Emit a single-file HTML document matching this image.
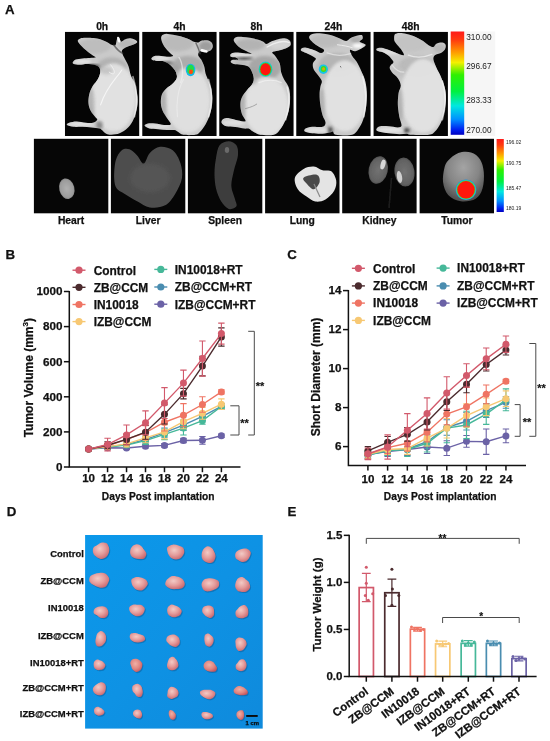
<!DOCTYPE html>
<html lang="en"><head><meta charset="utf-8"><title>Figure</title>
<style>
html,body{margin:0;padding:0;background:#fff;}
body{width:550px;height:741px;overflow:hidden;position:relative;font-family:'Liberation Sans', Arial, sans-serif;}
svg{position:absolute;left:0;top:0;display:block;}
svg text{font-family:'Liberation Sans', Arial, sans-serif;}
</style></head><body>
<svg width="550" height="741" viewBox="0 0 550 741">
<defs>
<filter id="b06" x="-20%" y="-20%" width="140%" height="140%"><feGaussianBlur stdDeviation="0.6"/></filter>
<filter id="b1" x="-20%" y="-20%" width="140%" height="140%"><feGaussianBlur stdDeviation="1"/></filter>
<filter id="b15" x="-30%" y="-30%" width="160%" height="160%"><feGaussianBlur stdDeviation="1.4"/></filter>
<filter id="b2" x="-30%" y="-30%" width="160%" height="160%"><feGaussianBlur stdDeviation="2"/></filter>
<filter id="b3" x="-30%" y="-30%" width="160%" height="160%"><feGaussianBlur stdDeviation="3.5"/></filter>
<linearGradient id="cbar" x1="0" y1="0" x2="0" y2="1"><stop offset="0" stop-color="#ff1a1a"/><stop offset="0.08" stop-color="#ff3a10"/><stop offset="0.2" stop-color="#ff9a00"/><stop offset="0.3" stop-color="#f4f000"/><stop offset="0.42" stop-color="#30f000"/><stop offset="0.58" stop-color="#00f040"/><stop offset="0.72" stop-color="#00e8e0"/><stop offset="0.85" stop-color="#0090ff"/><stop offset="0.95" stop-color="#0020f0"/><stop offset="1" stop-color="#0000c0"/></linearGradient>
<radialGradient id="bodyg" cx="0.55" cy="0.5" r="0.6"><stop offset="0" stop-color="#f2f2f2"/><stop offset="0.6" stop-color="#dedede"/><stop offset="1" stop-color="#a8a8a8"/></radialGradient>
</defs>
<text x="5.00" y="13.56" font-size="13.3" font-weight="bold" text-anchor="start" fill="#111"  stroke="#111" stroke-width="0.25">A</text>
<text x="102.15" y="29.89" font-size="10.3" font-weight="bold" text-anchor="middle" fill="#111"  stroke="#111" stroke-width="0.25">0h</text>
<text x="179.45" y="29.89" font-size="10.3" font-weight="bold" text-anchor="middle" fill="#111"  stroke="#111" stroke-width="0.25">4h</text>
<text x="256.45" y="29.89" font-size="10.3" font-weight="bold" text-anchor="middle" fill="#111"  stroke="#111" stroke-width="0.25">8h</text>
<text x="333.45" y="29.89" font-size="10.3" font-weight="bold" text-anchor="middle" fill="#111"  stroke="#111" stroke-width="0.25">24h</text>
<text x="410.65" y="29.89" font-size="10.3" font-weight="bold" text-anchor="middle" fill="#111"  stroke="#111" stroke-width="0.25">48h</text>
<svg x="64.85" y="31.7" width="74.6" height="104.4" viewBox="0 0 74.6 104.4" overflow="hidden">
<rect x="0" y="0" width="74.6" height="104.4" fill="#050505"/>
<clipPath id="mc0"><path d="M12.91,9.05C12.91,7.99 14.14,7.17 15.43,6.68C16.72,6.18 18.40,6.13 20.62,6.08C22.85,6.03 26.31,6.13 28.78,6.38C31.26,6.63 33.36,6.95 35.46,7.57C37.56,8.18 39.54,9.17 41.39,10.09C43.25,11.00 45.05,12.49 46.59,13.06C48.12,13.63 49.68,14.42 50.59,13.50C51.51,12.59 51.48,8.85 52.08,7.57C52.67,6.28 53.56,5.54 54.15,5.79C54.75,6.03 55.24,8.33 55.64,9.05C56.03,9.77 55.69,10.34 56.53,10.09C57.37,9.84 59.00,8.14 60.68,7.57C62.36,7.00 64.89,6.50 66.62,6.68C68.35,6.85 70.13,7.91 71.07,8.61C72.01,9.30 72.75,10.09 72.26,10.83C71.76,11.57 69.54,12.44 68.10,13.06C66.67,13.67 65.13,13.92 63.65,14.54C62.17,15.16 60.31,15.90 59.20,16.77C58.09,17.63 56.97,18.25 56.97,19.73C56.97,21.22 58.09,23.19 59.20,25.67C60.31,28.14 62.54,31.60 63.65,34.57C64.76,37.54 64.89,40.75 65.88,43.47C66.86,46.19 68.60,48.17 69.58,50.89C70.57,53.61 71.27,56.58 71.81,59.79C72.35,63.01 72.97,66.72 72.85,70.18C72.73,73.64 71.91,77.35 71.07,80.56C70.23,83.78 69.29,86.75 67.80,89.47C66.32,92.19 64.34,94.86 62.17,96.88C59.99,98.91 57.34,100.59 54.75,101.63C52.15,102.67 48.81,103.04 46.59,103.12C44.36,103.19 43.00,102.87 41.39,102.08C39.79,101.29 38.06,99.23 36.94,98.37C35.83,97.50 36.45,97.33 34.72,96.88C32.99,96.44 29.40,95.99 26.56,95.70C23.71,95.40 20.62,95.20 17.66,95.10C14.69,95.00 11.35,95.43 8.75,95.10C6.16,94.78 2.82,93.87 2.08,93.18C1.34,92.48 2.70,91.52 4.30,90.95C5.91,90.38 9.00,89.76 11.72,89.76C14.44,89.76 17.90,90.75 20.62,90.95C23.34,91.15 26.06,91.44 28.04,90.95C30.02,90.45 32.12,88.97 32.49,87.98C32.86,86.99 31.38,86.50 30.27,85.01C29.15,83.53 26.93,81.31 25.82,79.08C24.70,76.85 23.84,74.38 23.59,71.66C23.34,68.94 23.71,65.48 24.33,62.76C24.95,60.04 26.06,57.57 27.30,55.34C28.54,53.12 30.51,51.38 31.75,49.41C32.99,47.43 34.10,45.20 34.72,43.47C35.34,41.74 35.58,40.38 35.46,39.02C35.34,37.66 34.97,36.30 33.98,35.31C32.99,34.32 31.50,33.58 29.53,33.09C27.55,32.59 24.58,32.34 22.11,32.34C19.63,32.34 16.91,33.09 14.69,33.09C12.46,33.09 9.87,32.79 8.75,32.34C7.64,31.90 7.64,31.16 8.01,30.42C8.38,29.67 9.37,28.49 10.98,27.89C12.59,27.30 15.31,27.10 17.66,26.85C20.00,26.61 22.85,26.61 25.07,26.41C27.30,26.21 30.39,26.04 31.01,25.67C31.63,25.30 30.02,25.05 28.78,24.18C27.55,23.32 25.20,21.71 23.59,20.47C21.98,19.24 20.50,18.00 19.14,16.77C17.78,15.53 16.47,14.34 15.43,13.06C14.39,11.77 12.91,10.11 12.91,9.05Z"/></clipPath>
<g filter="url(#b06)">
<path d="M12.91,9.05C12.91,7.99 14.14,7.17 15.43,6.68C16.72,6.18 18.40,6.13 20.62,6.08C22.85,6.03 26.31,6.13 28.78,6.38C31.26,6.63 33.36,6.95 35.46,7.57C37.56,8.18 39.54,9.17 41.39,10.09C43.25,11.00 45.05,12.49 46.59,13.06C48.12,13.63 49.68,14.42 50.59,13.50C51.51,12.59 51.48,8.85 52.08,7.57C52.67,6.28 53.56,5.54 54.15,5.79C54.75,6.03 55.24,8.33 55.64,9.05C56.03,9.77 55.69,10.34 56.53,10.09C57.37,9.84 59.00,8.14 60.68,7.57C62.36,7.00 64.89,6.50 66.62,6.68C68.35,6.85 70.13,7.91 71.07,8.61C72.01,9.30 72.75,10.09 72.26,10.83C71.76,11.57 69.54,12.44 68.10,13.06C66.67,13.67 65.13,13.92 63.65,14.54C62.17,15.16 60.31,15.90 59.20,16.77C58.09,17.63 56.97,18.25 56.97,19.73C56.97,21.22 58.09,23.19 59.20,25.67C60.31,28.14 62.54,31.60 63.65,34.57C64.76,37.54 64.89,40.75 65.88,43.47C66.86,46.19 68.60,48.17 69.58,50.89C70.57,53.61 71.27,56.58 71.81,59.79C72.35,63.01 72.97,66.72 72.85,70.18C72.73,73.64 71.91,77.35 71.07,80.56C70.23,83.78 69.29,86.75 67.80,89.47C66.32,92.19 64.34,94.86 62.17,96.88C59.99,98.91 57.34,100.59 54.75,101.63C52.15,102.67 48.81,103.04 46.59,103.12C44.36,103.19 43.00,102.87 41.39,102.08C39.79,101.29 38.06,99.23 36.94,98.37C35.83,97.50 36.45,97.33 34.72,96.88C32.99,96.44 29.40,95.99 26.56,95.70C23.71,95.40 20.62,95.20 17.66,95.10C14.69,95.00 11.35,95.43 8.75,95.10C6.16,94.78 2.82,93.87 2.08,93.18C1.34,92.48 2.70,91.52 4.30,90.95C5.91,90.38 9.00,89.76 11.72,89.76C14.44,89.76 17.90,90.75 20.62,90.95C23.34,91.15 26.06,91.44 28.04,90.95C30.02,90.45 32.12,88.97 32.49,87.98C32.86,86.99 31.38,86.50 30.27,85.01C29.15,83.53 26.93,81.31 25.82,79.08C24.70,76.85 23.84,74.38 23.59,71.66C23.34,68.94 23.71,65.48 24.33,62.76C24.95,60.04 26.06,57.57 27.30,55.34C28.54,53.12 30.51,51.38 31.75,49.41C32.99,47.43 34.10,45.20 34.72,43.47C35.34,41.74 35.58,40.38 35.46,39.02C35.34,37.66 34.97,36.30 33.98,35.31C32.99,34.32 31.50,33.58 29.53,33.09C27.55,32.59 24.58,32.34 22.11,32.34C19.63,32.34 16.91,33.09 14.69,33.09C12.46,33.09 9.87,32.79 8.75,32.34C7.64,31.90 7.64,31.16 8.01,30.42C8.38,29.67 9.37,28.49 10.98,27.89C12.59,27.30 15.31,27.10 17.66,26.85C20.00,26.61 22.85,26.61 25.07,26.41C27.30,26.21 30.39,26.04 31.01,25.67C31.63,25.30 30.02,25.05 28.78,24.18C27.55,23.32 25.20,21.71 23.59,20.47C21.98,19.24 20.50,18.00 19.14,16.77C17.78,15.53 16.47,14.34 15.43,13.06C14.39,11.77 12.91,10.11 12.91,9.05Z" fill="#cacaca"/>
<g clip-path="url(#mc0)">
<ellipse cx="47.33" cy="34.57" rx="14.84" ry="8.90" fill="#a0a0a0" opacity="0.55" filter="url(#b15)"/>
<ellipse cx="48.81" cy="65.73" rx="22.26" ry="34.12" fill="#e2e2e2" opacity="0.95" filter="url(#b15)"/>
<ellipse cx="29.53" cy="14.54" rx="16.32" ry="7.42" fill="#b4b4b4" opacity="0.6" filter="url(#b15)"/>
<ellipse cx="62.17" cy="12.31" rx="8.90" ry="4.45" fill="#a8a8a8" opacity="0.5" filter="url(#b15)"/>
<ellipse cx="27.30" cy="34.87" rx="7.42" ry="2.08" fill="#000" opacity="0.8" filter="url(#b15)"/>
<ellipse cx="41.39" cy="39.02" rx="6.68" ry="3.71" fill="#a8a8a8" opacity="0.45" filter="url(#b15)"/>
<ellipse cx="26.56" cy="73.15" rx="3.26" ry="16.32" fill="#8a8a8a" opacity="0.4" filter="url(#b15)"/>
<ellipse cx="34.72" cy="93.18" rx="3.26" ry="3.86" fill="#444" opacity="0.5" filter="url(#b15)"/>
<ellipse cx="17.66" cy="29.82" rx="8.90" ry="2.08" fill="#f0f0f0" opacity="0.8" filter="url(#b15)"/>
<ellipse cx="16.17" cy="92.43" rx="13.35" ry="2.08" fill="#ececec" opacity="0.8" filter="url(#b15)"/>
</g>
<path d="M56.97,38.28C51.78,46.44 41.39,55.34 35.76,73.15" fill="none" stroke="#fafafa" stroke-width="1.1" opacity="0.8" stroke-linecap="round"/>
<path d="M49.11,13.50C52.52,18.25 55.49,20.47 57.72,21.51" fill="none" stroke="#4a4a4a" stroke-width="1.6" opacity="0.7" stroke-linecap="round"/>
<path d="M53.26,6.08 L54.45,9.64" fill="none" stroke="#ffffff" stroke-width="2.2" opacity="0.95" stroke-linecap="round"/>
<path d="M45.85,33.09C51.78,40.50 50.30,44.96 44.36,40.50" fill="none" stroke="#f6f6f6" stroke-width="1.0" opacity="0.7" stroke-linecap="round"/>
<path d="M68.10,44.96C72.55,58.31 72.85,73.15 69.58,85.01" fill="none" stroke="#fbfbfb" stroke-width="1.6" opacity="0.6" stroke-linecap="round"/>
</g>
</svg>
<svg x="142.15" y="31.7" width="74.6" height="104.4" viewBox="0 0 74.6 104.4" overflow="hidden">
<rect x="0" y="0" width="74.6" height="104.4" fill="#050505"/>
<clipPath id="mc1"><path d="M18.99,7.12C18.82,5.51 19.31,4.28 20.18,3.41C21.04,2.55 22.40,1.98 24.18,1.93C25.96,1.88 28.51,2.67 30.86,3.12C33.21,3.56 35.81,3.93 38.28,4.60C40.75,5.27 43.47,6.21 45.70,7.12C47.92,8.04 49.90,9.47 51.63,10.09C53.36,10.71 54.85,11.00 56.08,10.83C57.32,10.66 57.57,9.42 59.05,9.05C60.53,8.68 63.25,8.31 64.99,8.61C66.72,8.90 68.50,9.72 69.44,10.83C70.38,11.94 70.87,13.92 70.62,15.28C70.38,16.64 69.39,18.13 67.95,18.99C66.52,19.86 63.75,20.35 62.02,20.47C60.29,20.60 58.56,19.24 57.57,19.73C56.58,20.23 55.84,22.08 56.08,23.44C56.33,24.80 58.06,26.04 59.05,27.89C60.04,29.75 61.28,32.22 62.02,34.57C62.76,36.92 62.76,39.52 63.50,41.99C64.24,44.46 65.48,46.69 66.47,49.41C67.46,52.13 68.82,54.85 69.44,58.31C70.05,61.77 70.43,66.22 70.18,70.18C69.93,74.13 69.07,78.34 67.95,82.05C66.84,85.76 65.23,89.34 63.50,92.43C61.77,95.52 59.30,98.81 57.57,100.59C55.84,102.37 55.84,102.70 53.12,103.12C50.40,103.54 44.21,103.66 41.25,103.12C38.28,102.57 36.80,100.64 35.31,99.85C33.83,99.06 34.08,98.62 32.34,98.37C30.61,98.12 27.65,98.49 24.93,98.37C22.21,98.24 18.99,97.87 16.02,97.63C13.06,97.38 9.40,97.50 7.12,96.88C4.85,96.27 2.62,94.78 2.37,93.92C2.13,93.05 3.86,92.06 5.64,91.69C7.42,91.32 10.34,91.44 13.06,91.69C15.78,91.94 19.36,93.05 21.96,93.18C24.55,93.30 28.14,93.55 28.64,92.43C29.13,91.32 26.29,88.72 24.93,86.50C23.57,84.27 21.51,81.55 20.47,79.08C19.44,76.61 18.82,74.38 18.69,71.66C18.57,68.94 18.82,65.23 19.73,62.76C20.65,60.29 22.45,58.56 24.18,56.82C25.91,55.09 28.39,54.10 30.12,52.37C31.85,50.64 33.95,48.42 34.57,46.44C35.19,44.46 34.57,42.36 33.83,40.50C33.09,38.65 31.48,36.80 30.12,35.31C28.76,33.83 27.27,32.59 25.67,31.60C24.06,30.61 22.33,29.75 20.47,29.38C18.62,29.01 16.27,29.55 14.54,29.38C12.81,29.20 10.95,28.83 10.09,28.34C9.22,27.84 8.98,27.10 9.35,26.41C9.72,25.72 10.71,24.55 12.31,24.18C13.92,23.81 16.64,24.06 18.99,24.18C21.34,24.31 24.43,24.93 26.41,24.93C28.39,24.93 30.49,24.68 30.86,24.18C31.23,23.69 29.62,22.95 28.64,21.96C27.65,20.97 26.16,19.73 24.93,18.25C23.69,16.77 22.21,14.91 21.22,13.06C20.23,11.20 19.16,8.73 18.99,7.12Z"/></clipPath>
<g filter="url(#b06)">
<path d="M18.99,7.12C18.82,5.51 19.31,4.28 20.18,3.41C21.04,2.55 22.40,1.98 24.18,1.93C25.96,1.88 28.51,2.67 30.86,3.12C33.21,3.56 35.81,3.93 38.28,4.60C40.75,5.27 43.47,6.21 45.70,7.12C47.92,8.04 49.90,9.47 51.63,10.09C53.36,10.71 54.85,11.00 56.08,10.83C57.32,10.66 57.57,9.42 59.05,9.05C60.53,8.68 63.25,8.31 64.99,8.61C66.72,8.90 68.50,9.72 69.44,10.83C70.38,11.94 70.87,13.92 70.62,15.28C70.38,16.64 69.39,18.13 67.95,18.99C66.52,19.86 63.75,20.35 62.02,20.47C60.29,20.60 58.56,19.24 57.57,19.73C56.58,20.23 55.84,22.08 56.08,23.44C56.33,24.80 58.06,26.04 59.05,27.89C60.04,29.75 61.28,32.22 62.02,34.57C62.76,36.92 62.76,39.52 63.50,41.99C64.24,44.46 65.48,46.69 66.47,49.41C67.46,52.13 68.82,54.85 69.44,58.31C70.05,61.77 70.43,66.22 70.18,70.18C69.93,74.13 69.07,78.34 67.95,82.05C66.84,85.76 65.23,89.34 63.50,92.43C61.77,95.52 59.30,98.81 57.57,100.59C55.84,102.37 55.84,102.70 53.12,103.12C50.40,103.54 44.21,103.66 41.25,103.12C38.28,102.57 36.80,100.64 35.31,99.85C33.83,99.06 34.08,98.62 32.34,98.37C30.61,98.12 27.65,98.49 24.93,98.37C22.21,98.24 18.99,97.87 16.02,97.63C13.06,97.38 9.40,97.50 7.12,96.88C4.85,96.27 2.62,94.78 2.37,93.92C2.13,93.05 3.86,92.06 5.64,91.69C7.42,91.32 10.34,91.44 13.06,91.69C15.78,91.94 19.36,93.05 21.96,93.18C24.55,93.30 28.14,93.55 28.64,92.43C29.13,91.32 26.29,88.72 24.93,86.50C23.57,84.27 21.51,81.55 20.47,79.08C19.44,76.61 18.82,74.38 18.69,71.66C18.57,68.94 18.82,65.23 19.73,62.76C20.65,60.29 22.45,58.56 24.18,56.82C25.91,55.09 28.39,54.10 30.12,52.37C31.85,50.64 33.95,48.42 34.57,46.44C35.19,44.46 34.57,42.36 33.83,40.50C33.09,38.65 31.48,36.80 30.12,35.31C28.76,33.83 27.27,32.59 25.67,31.60C24.06,30.61 22.33,29.75 20.47,29.38C18.62,29.01 16.27,29.55 14.54,29.38C12.81,29.20 10.95,28.83 10.09,28.34C9.22,27.84 8.98,27.10 9.35,26.41C9.72,25.72 10.71,24.55 12.31,24.18C13.92,23.81 16.64,24.06 18.99,24.18C21.34,24.31 24.43,24.93 26.41,24.93C28.39,24.93 30.49,24.68 30.86,24.18C31.23,23.69 29.62,22.95 28.64,21.96C27.65,20.97 26.16,19.73 24.93,18.25C23.69,16.77 22.21,14.91 21.22,13.06C20.23,11.20 19.16,8.73 18.99,7.12Z" fill="#cacaca"/>
<g clip-path="url(#mc1)">
<ellipse cx="45.70" cy="34.57" rx="16.32" ry="10.39" fill="#989898" opacity="0.6" filter="url(#b15)"/>
<ellipse cx="45.70" cy="68.69" rx="22.26" ry="32.64" fill="#e0e0e0" opacity="0.95" filter="url(#b15)"/>
<ellipse cx="35.31" cy="11.57" rx="16.32" ry="8.16" fill="#b0b0b0" opacity="0.6" filter="url(#b15)"/>
<ellipse cx="63.50" cy="14.54" rx="6.68" ry="5.19" fill="#808080" opacity="0.6" filter="url(#b15)"/>
<ellipse cx="33.09" cy="39.02" rx="4.45" ry="6.68" fill="#9a9a9a" opacity="0.5" filter="url(#b15)"/>
<ellipse cx="21.22" cy="73.15" rx="3.26" ry="14.84" fill="#8a8a8a" opacity="0.4" filter="url(#b15)"/>
<ellipse cx="24.93" cy="31.31" rx="5.93" ry="1.48" fill="#000" opacity="0.6" filter="url(#b15)"/>
<ellipse cx="18.99" cy="26.41" rx="8.90" ry="2.08" fill="#ececec" opacity="0.8" filter="url(#b15)"/>
<ellipse cx="16.02" cy="94.66" rx="13.35" ry="2.08" fill="#e8e8e8" opacity="0.8" filter="url(#b15)"/>
</g>
<path d="M53.86,11.57C56.08,16.02 57.27,19.73 57.86,21.96" fill="none" stroke="#4a4a4a" stroke-width="1.5" opacity="0.7" stroke-linecap="round"/>
<path d="M59.79,18.55 L64.24,19.73" fill="none" stroke="#ffffff" stroke-width="2.6" opacity="0.95" stroke-linecap="round"/>
<path d="M41.25,47.92C35.31,58.31 33.83,73.15 35.31,85.01" fill="none" stroke="#f4f4f4" stroke-width="1.2" opacity="0.5" stroke-linecap="round"/>
<path d="M66.47,47.92C70.18,59.79 70.18,73.15 66.47,85.01" fill="none" stroke="#fbfbfb" stroke-width="1.6" opacity="0.6" stroke-linecap="round"/>
<path d="M36.80,25.67C41.25,31.60 41.25,44.96 38.28,50.89" fill="none" stroke="#f2f2f2" stroke-width="1.4" opacity="0.6" stroke-linecap="round"/>
</g>
<g filter="url(#b06)"><ellipse cx="48.4" cy="38.3" rx="4.8" ry="6.2" fill="#19b8e8"/><ellipse cx="48.4" cy="37.699999999999996" rx="3.4" ry="4.6" fill="#22dd44"/><ellipse cx="48.8" cy="40.099999999999994" rx="2.0" ry="2.4" fill="#ff4a10"/></g>
</svg>
<svg x="219.15" y="31.7" width="74.6" height="104.4" viewBox="0 0 74.6 104.4" overflow="hidden">
<rect x="0" y="0" width="74.6" height="104.4" fill="#050505"/>
<clipPath id="mc2"><path d="M14.54,8.61C14.42,7.37 15.28,6.21 16.77,5.64C18.25,5.07 21.09,5.12 23.44,5.19C25.79,5.27 28.39,5.64 30.86,6.08C33.33,6.53 36.05,7.20 38.28,7.86C40.50,8.53 42.73,9.35 44.21,10.09C45.70,10.83 45.94,12.31 47.18,12.31C48.42,12.31 49.65,10.88 51.63,10.09C53.61,9.30 56.58,8.14 59.05,7.57C61.52,7.00 64.49,6.38 66.47,6.68C68.45,6.97 70.13,8.16 70.92,9.35C71.71,10.53 71.96,12.56 71.22,13.80C70.47,15.03 68.50,15.90 66.47,16.77C64.44,17.63 61.28,18.37 59.05,18.99C56.82,19.61 53.61,19.61 53.12,20.47C52.62,21.34 54.85,22.33 56.08,24.18C57.32,26.04 59.55,28.88 60.53,31.60C61.52,34.32 61.28,37.78 62.02,40.50C62.76,43.22 63.75,45.45 64.99,47.92C66.22,50.40 68.45,52.62 69.44,55.34C70.43,58.06 70.80,60.78 70.92,64.24C71.04,67.71 70.92,72.16 70.18,76.11C69.44,80.07 68.08,84.27 66.47,87.98C64.86,91.69 62.51,95.85 60.53,98.37C58.56,100.89 57.81,102.32 54.60,103.12C51.38,103.91 44.71,103.66 41.25,103.12C37.78,102.57 35.81,100.89 33.83,99.85C31.85,98.81 30.86,97.38 29.38,96.88C27.89,96.39 27.15,97.13 24.93,96.88C22.70,96.64 18.99,95.77 16.02,95.40C13.06,95.03 9.40,95.40 7.12,94.66C4.85,93.92 2.87,92.19 2.37,90.95C1.88,89.71 2.87,87.98 4.15,87.24C5.44,86.50 7.62,86.25 10.09,86.50C12.56,86.75 16.27,88.23 18.99,88.72C21.71,89.22 25.79,90.58 26.41,89.47C27.03,88.35 23.57,84.77 22.70,82.05C21.83,79.33 21.22,75.87 21.22,73.15C21.22,70.43 21.59,68.20 22.70,65.73C23.81,63.25 26.16,60.53 27.89,58.31C29.62,56.08 31.97,54.35 33.09,52.37C34.20,50.40 34.69,48.66 34.57,46.44C34.45,44.21 33.33,41.00 32.34,39.02C31.36,37.04 30.37,35.56 28.64,34.57C26.90,33.58 24.31,33.46 21.96,33.09C19.61,32.72 16.27,32.79 14.54,32.34C12.81,31.90 11.82,31.08 11.57,30.42C11.33,29.75 11.82,28.76 13.06,28.34C14.29,27.92 18.50,28.34 18.99,27.89C19.49,27.45 17.26,26.16 16.02,25.67C14.79,25.17 12.31,25.47 11.57,24.93C10.83,24.38 10.83,23.07 11.57,22.40C12.31,21.74 13.80,21.07 16.02,20.92C18.25,20.77 22.21,21.34 24.93,21.51C27.65,21.69 31.85,22.26 32.34,21.96C32.84,21.66 29.62,20.60 27.89,19.73C26.16,18.87 23.69,17.88 21.96,16.77C20.23,15.65 18.74,14.42 17.51,13.06C16.27,11.70 14.66,9.84 14.54,8.61Z"/></clipPath>
<g filter="url(#b06)">
<path d="M14.54,8.61C14.42,7.37 15.28,6.21 16.77,5.64C18.25,5.07 21.09,5.12 23.44,5.19C25.79,5.27 28.39,5.64 30.86,6.08C33.33,6.53 36.05,7.20 38.28,7.86C40.50,8.53 42.73,9.35 44.21,10.09C45.70,10.83 45.94,12.31 47.18,12.31C48.42,12.31 49.65,10.88 51.63,10.09C53.61,9.30 56.58,8.14 59.05,7.57C61.52,7.00 64.49,6.38 66.47,6.68C68.45,6.97 70.13,8.16 70.92,9.35C71.71,10.53 71.96,12.56 71.22,13.80C70.47,15.03 68.50,15.90 66.47,16.77C64.44,17.63 61.28,18.37 59.05,18.99C56.82,19.61 53.61,19.61 53.12,20.47C52.62,21.34 54.85,22.33 56.08,24.18C57.32,26.04 59.55,28.88 60.53,31.60C61.52,34.32 61.28,37.78 62.02,40.50C62.76,43.22 63.75,45.45 64.99,47.92C66.22,50.40 68.45,52.62 69.44,55.34C70.43,58.06 70.80,60.78 70.92,64.24C71.04,67.71 70.92,72.16 70.18,76.11C69.44,80.07 68.08,84.27 66.47,87.98C64.86,91.69 62.51,95.85 60.53,98.37C58.56,100.89 57.81,102.32 54.60,103.12C51.38,103.91 44.71,103.66 41.25,103.12C37.78,102.57 35.81,100.89 33.83,99.85C31.85,98.81 30.86,97.38 29.38,96.88C27.89,96.39 27.15,97.13 24.93,96.88C22.70,96.64 18.99,95.77 16.02,95.40C13.06,95.03 9.40,95.40 7.12,94.66C4.85,93.92 2.87,92.19 2.37,90.95C1.88,89.71 2.87,87.98 4.15,87.24C5.44,86.50 7.62,86.25 10.09,86.50C12.56,86.75 16.27,88.23 18.99,88.72C21.71,89.22 25.79,90.58 26.41,89.47C27.03,88.35 23.57,84.77 22.70,82.05C21.83,79.33 21.22,75.87 21.22,73.15C21.22,70.43 21.59,68.20 22.70,65.73C23.81,63.25 26.16,60.53 27.89,58.31C29.62,56.08 31.97,54.35 33.09,52.37C34.20,50.40 34.69,48.66 34.57,46.44C34.45,44.21 33.33,41.00 32.34,39.02C31.36,37.04 30.37,35.56 28.64,34.57C26.90,33.58 24.31,33.46 21.96,33.09C19.61,32.72 16.27,32.79 14.54,32.34C12.81,31.90 11.82,31.08 11.57,30.42C11.33,29.75 11.82,28.76 13.06,28.34C14.29,27.92 18.50,28.34 18.99,27.89C19.49,27.45 17.26,26.16 16.02,25.67C14.79,25.17 12.31,25.47 11.57,24.93C10.83,24.38 10.83,23.07 11.57,22.40C12.31,21.74 13.80,21.07 16.02,20.92C18.25,20.77 22.21,21.34 24.93,21.51C27.65,21.69 31.85,22.26 32.34,21.96C32.84,21.66 29.62,20.60 27.89,19.73C26.16,18.87 23.69,17.88 21.96,16.77C20.23,15.65 18.74,14.42 17.51,13.06C16.27,11.70 14.66,9.84 14.54,8.61Z" fill="#cacaca"/>
<g clip-path="url(#mc2)">
<ellipse cx="45.70" cy="36.05" rx="16.32" ry="11.87" fill="#909090" opacity="0.6" filter="url(#b15)"/>
<ellipse cx="47.18" cy="74.63" rx="22.26" ry="29.67" fill="#e2e2e2" opacity="0.95" filter="url(#b15)"/>
<ellipse cx="30.86" cy="13.06" rx="14.84" ry="5.93" fill="#a4a4a4" opacity="0.6" filter="url(#b15)"/>
<ellipse cx="60.53" cy="13.06" rx="10.39" ry="4.15" fill="#d8d8d8" opacity="0.7" filter="url(#b15)"/>
<ellipse cx="24.93" cy="26.56" rx="8.90" ry="1.19" fill="#000" opacity="0.8" filter="url(#b15)"/>
<ellipse cx="33.83" cy="44.96" rx="5.19" ry="8.16" fill="#999" opacity="0.45" filter="url(#b15)"/>
<ellipse cx="23.44" cy="74.63" rx="3.26" ry="14.84" fill="#8a8a8a" opacity="0.4" filter="url(#b15)"/>
<ellipse cx="21.96" cy="31.31" rx="7.42" ry="2.37" fill="#a8a8a8" opacity="0.5" filter="url(#b15)"/>
<ellipse cx="21.96" cy="23.15" rx="10.39" ry="1.48" fill="#eee" opacity="0.8" filter="url(#b15)"/>
<ellipse cx="14.54" cy="90.95" rx="11.87" ry="2.97" fill="#e4e4e4" opacity="0.8" filter="url(#b15)"/>
</g>
<path d="M47.92,15.28C56.08,10.09 64.99,8.61 70.18,10.83" fill="none" stroke="#f4f4f4" stroke-width="1.4" opacity="0.8" stroke-linecap="round"/>
<path d="M26.41,76.85C32.34,75.37 35.31,73.89 37.54,72.40" fill="none" stroke="#8a8a8a" stroke-width="1.0" opacity="0.7" stroke-linecap="round"/>
<path d="M67.95,55.34C70.92,64.24 70.18,76.11 66.47,87.98" fill="none" stroke="#fbfbfb" stroke-width="1.6" opacity="0.6" stroke-linecap="round"/>
<path d="M39.76,50.89C47.18,47.92 56.08,47.92 62.02,50.89" fill="none" stroke="#f6f6f6" stroke-width="1.4" opacity="0.6" stroke-linecap="round"/>
</g>
<g filter="url(#b06)"><ellipse cx="46.4" cy="37.5" rx="6.9" ry="7.6" fill="#18c8d8"/><ellipse cx="46.4" cy="37.5" rx="6.0" ry="6.8" fill="#30e030"/></g><ellipse cx="46.4" cy="37.5" rx="5.2" ry="6.0" fill="#ff1408" filter="url(#b06)"/>
</svg>
<svg x="296.15" y="31.7" width="74.6" height="104.4" viewBox="0 0 74.6 104.4" overflow="hidden">
<rect x="0" y="0" width="74.6" height="104.4" fill="#050505"/>
<clipPath id="mc3"><path d="M13.06,6.38C12.69,5.09 13.30,3.91 14.54,3.12C15.78,2.32 18.00,1.78 20.47,1.63C22.95,1.48 26.66,1.81 29.38,2.23C32.10,2.65 34.32,3.34 36.80,4.15C39.27,4.97 41.99,6.26 44.21,7.12C46.44,7.99 48.42,9.47 50.15,9.35C51.88,9.22 52.87,7.25 54.60,6.38C56.33,5.51 58.68,4.65 60.53,4.15C62.39,3.66 64.74,2.92 65.73,3.41C66.72,3.91 66.84,6.01 66.47,7.12C66.10,8.23 63.01,9.10 63.50,10.09C64.00,11.08 68.94,12.07 69.44,13.06C69.93,14.05 68.20,14.96 66.47,16.02C64.74,17.09 61.15,19.07 59.05,19.44C56.95,19.81 54.35,17.46 53.86,18.25C53.36,19.04 54.97,22.21 56.08,24.18C57.20,26.16 59.05,27.65 60.53,30.12C62.02,32.59 63.63,36.05 64.99,39.02C66.35,41.99 67.75,44.46 68.69,47.92C69.63,51.38 70.38,55.59 70.62,59.79C70.87,64.00 70.62,68.94 70.18,73.15C69.73,77.35 69.07,81.31 67.95,85.01C66.84,88.72 65.48,92.38 63.50,95.40C61.52,98.42 60.04,101.83 56.08,103.12C52.13,104.40 42.98,103.66 39.76,103.12C36.55,102.57 37.66,100.27 36.80,99.85C35.93,99.43 36.30,100.22 34.57,100.59C32.84,100.96 29.50,101.90 26.41,102.08C23.32,102.25 18.99,102.00 16.02,101.63C13.06,101.26 9.72,100.64 8.61,99.85C7.49,99.06 8.11,97.68 9.35,96.88C10.58,96.09 13.18,95.40 16.02,95.10C18.87,94.81 24.18,95.80 26.41,95.10C28.64,94.41 29.38,92.88 29.38,90.95C29.38,89.02 27.27,86.50 26.41,83.53C25.54,80.56 24.68,76.61 24.18,73.15C23.69,69.68 23.44,65.73 23.44,62.76C23.44,59.79 23.81,57.57 24.18,55.34C24.55,53.12 26.04,51.38 25.67,49.41C25.30,47.43 23.32,45.45 21.96,43.47C20.60,41.49 18.37,39.52 17.51,37.54C16.64,35.56 16.39,33.33 16.77,31.60C17.14,29.87 19.86,28.39 19.73,27.15C19.61,25.91 17.63,25.17 16.02,24.18C14.42,23.19 11.94,22.08 10.09,21.22C8.23,20.35 5.64,19.78 4.90,18.99C4.15,18.20 4.77,16.96 5.64,16.47C6.50,15.97 8.11,15.73 10.09,16.02C12.07,16.32 15.03,17.38 17.51,18.25C19.98,19.11 23.19,21.22 24.93,21.22C26.66,21.22 28.39,19.36 27.89,18.25C27.40,17.14 23.81,15.78 21.96,14.54C20.10,13.30 18.25,12.19 16.77,10.83C15.28,9.47 13.43,7.67 13.06,6.38Z"/></clipPath>
<g filter="url(#b06)">
<path d="M13.06,6.38C12.69,5.09 13.30,3.91 14.54,3.12C15.78,2.32 18.00,1.78 20.47,1.63C22.95,1.48 26.66,1.81 29.38,2.23C32.10,2.65 34.32,3.34 36.80,4.15C39.27,4.97 41.99,6.26 44.21,7.12C46.44,7.99 48.42,9.47 50.15,9.35C51.88,9.22 52.87,7.25 54.60,6.38C56.33,5.51 58.68,4.65 60.53,4.15C62.39,3.66 64.74,2.92 65.73,3.41C66.72,3.91 66.84,6.01 66.47,7.12C66.10,8.23 63.01,9.10 63.50,10.09C64.00,11.08 68.94,12.07 69.44,13.06C69.93,14.05 68.20,14.96 66.47,16.02C64.74,17.09 61.15,19.07 59.05,19.44C56.95,19.81 54.35,17.46 53.86,18.25C53.36,19.04 54.97,22.21 56.08,24.18C57.20,26.16 59.05,27.65 60.53,30.12C62.02,32.59 63.63,36.05 64.99,39.02C66.35,41.99 67.75,44.46 68.69,47.92C69.63,51.38 70.38,55.59 70.62,59.79C70.87,64.00 70.62,68.94 70.18,73.15C69.73,77.35 69.07,81.31 67.95,85.01C66.84,88.72 65.48,92.38 63.50,95.40C61.52,98.42 60.04,101.83 56.08,103.12C52.13,104.40 42.98,103.66 39.76,103.12C36.55,102.57 37.66,100.27 36.80,99.85C35.93,99.43 36.30,100.22 34.57,100.59C32.84,100.96 29.50,101.90 26.41,102.08C23.32,102.25 18.99,102.00 16.02,101.63C13.06,101.26 9.72,100.64 8.61,99.85C7.49,99.06 8.11,97.68 9.35,96.88C10.58,96.09 13.18,95.40 16.02,95.10C18.87,94.81 24.18,95.80 26.41,95.10C28.64,94.41 29.38,92.88 29.38,90.95C29.38,89.02 27.27,86.50 26.41,83.53C25.54,80.56 24.68,76.61 24.18,73.15C23.69,69.68 23.44,65.73 23.44,62.76C23.44,59.79 23.81,57.57 24.18,55.34C24.55,53.12 26.04,51.38 25.67,49.41C25.30,47.43 23.32,45.45 21.96,43.47C20.60,41.49 18.37,39.52 17.51,37.54C16.64,35.56 16.39,33.33 16.77,31.60C17.14,29.87 19.86,28.39 19.73,27.15C19.61,25.91 17.63,25.17 16.02,24.18C14.42,23.19 11.94,22.08 10.09,21.22C8.23,20.35 5.64,19.78 4.90,18.99C4.15,18.20 4.77,16.96 5.64,16.47C6.50,15.97 8.11,15.73 10.09,16.02C12.07,16.32 15.03,17.38 17.51,18.25C19.98,19.11 23.19,21.22 24.93,21.22C26.66,21.22 28.39,19.36 27.89,18.25C27.40,17.14 23.81,15.78 21.96,14.54C20.10,13.30 18.25,12.19 16.77,10.83C15.28,9.47 13.43,7.67 13.06,6.38Z" fill="#cacaca"/>
<g clip-path="url(#mc3)">
<ellipse cx="41.25" cy="31.60" rx="17.80" ry="10.39" fill="#a0a0a0" opacity="0.5" filter="url(#b15)"/>
<ellipse cx="48.66" cy="64.24" rx="21.51" ry="35.61" fill="#e2e2e2" opacity="0.95" filter="url(#b15)"/>
<ellipse cx="29.38" cy="9.35" rx="15.58" ry="6.68" fill="#b0b0b0" opacity="0.55" filter="url(#b15)"/>
<ellipse cx="59.79" cy="7.86" rx="5.93" ry="3.26" fill="#999" opacity="0.6" filter="url(#b15)"/>
<ellipse cx="61.72" cy="14.09" rx="5.64" ry="2.23" fill="#fff" opacity="1" filter="url(#b15)"/>
<ellipse cx="24.93" cy="39.02" rx="6.68" ry="8.16" fill="#b0b0b0" opacity="0.45" filter="url(#b15)"/>
<ellipse cx="25.67" cy="73.15" rx="3.26" ry="16.32" fill="#8e8e8e" opacity="0.4" filter="url(#b15)"/>
<ellipse cx="33.83" cy="98.37" rx="2.67" ry="3.26" fill="#222" opacity="0.7" filter="url(#b15)"/>
<ellipse cx="14.54" cy="19.73" rx="8.90" ry="2.37" fill="#e0e0e0" opacity="0.8" filter="url(#b15)"/>
<ellipse cx="20.47" cy="98.37" rx="11.87" ry="2.67" fill="#e6e6e6" opacity="0.8" filter="url(#b15)"/>
</g>
<path d="M41.25,13.06C47.18,13.80 51.63,14.54 56.08,16.02" fill="none" stroke="#f2f2f2" stroke-width="1.0" opacity="0.8" stroke-linecap="round"/>
<path d="M44.21,34.87 L44.81,35.46" fill="none" stroke="#333333" stroke-width="0.9" opacity="0.9" stroke-linecap="round"/>
<path d="M66.47,44.96C70.62,58.31 70.18,73.15 67.66,85.01" fill="none" stroke="#fbfbfb" stroke-width="1.6" opacity="0.6" stroke-linecap="round"/>
<path d="M30.86,21.22C38.28,24.18 47.18,24.18 54.60,21.96" fill="none" stroke="#f2f2f2" stroke-width="1.2" opacity="0.6" stroke-linecap="round"/>
</g>
<g filter="url(#b06)"><ellipse cx="27.2" cy="37.5" rx="4.6" ry="4.8" fill="#19c4e8"/><ellipse cx="27.4" cy="37.2" rx="2.8" ry="3.0" fill="#38e020"/><ellipse cx="27.4" cy="37.2" rx="1.4" ry="1.6" fill="#e8a010"/></g>
</svg>
<svg x="373.35" y="31.7" width="74.6" height="104.4" viewBox="0 0 74.6 104.4" overflow="hidden">
<rect x="0" y="0" width="74.6" height="104.4" fill="#050505"/>
<clipPath id="mc4"><path d="M20.77,7.12C20.77,5.89 20.65,3.66 21.51,2.67C22.38,1.68 23.99,1.26 25.96,1.19C27.94,1.11 30.66,1.56 33.38,2.23C36.10,2.89 39.56,4.01 42.28,5.19C45.00,6.38 47.48,7.91 49.70,9.35C51.93,10.78 53.91,12.81 55.64,13.80C57.37,14.79 58.85,15.58 60.09,15.28C61.33,14.99 61.57,12.76 63.06,12.02C64.54,11.28 67.46,10.66 68.99,10.83C70.52,11.00 71.81,11.94 72.26,13.06C72.70,14.17 72.45,16.15 71.66,17.51C70.87,18.87 69.19,20.23 67.51,21.22C65.83,22.21 62.81,22.33 61.57,23.44C60.34,24.55 59.84,25.79 60.09,27.89C60.34,30.00 61.82,33.21 63.06,36.05C64.29,38.90 66.15,41.74 67.51,44.96C68.87,48.17 70.35,51.88 71.22,55.34C72.08,58.80 72.70,61.77 72.70,65.73C72.70,69.68 72.08,74.88 71.22,79.08C70.35,83.28 69.11,87.49 67.51,90.95C65.90,94.41 63.55,97.82 61.57,99.85C59.59,101.88 59.59,102.57 55.64,103.12C51.68,103.66 41.54,103.29 37.83,103.12C34.12,102.94 35.36,102.18 33.38,102.08C31.40,101.98 28.93,102.60 25.96,102.52C23.00,102.45 19.04,102.08 15.58,101.63C12.12,101.19 7.29,100.52 5.19,99.85C3.09,99.18 2.72,98.49 2.97,97.63C3.21,96.76 4.57,95.15 6.68,94.66C8.78,94.16 12.61,94.49 15.58,94.66C18.55,94.83 22.38,95.82 24.48,95.70C26.58,95.57 27.94,95.70 28.19,93.92C28.44,92.14 26.58,88.48 25.96,85.01C25.35,81.55 24.60,77.10 24.48,73.15C24.36,69.19 24.73,64.49 25.22,61.28C25.72,58.06 27.57,56.33 27.45,53.86C27.32,51.38 25.96,48.66 24.48,46.44C23.00,44.21 19.91,42.36 18.55,40.50C17.19,38.65 16.07,36.92 16.32,35.31C16.57,33.70 19.66,32.10 20.03,30.86C20.40,29.62 19.29,29.01 18.55,27.89C17.80,26.78 17.06,25.42 15.58,24.18C14.09,22.95 11.62,21.34 9.64,20.47C7.67,19.61 4.75,19.61 3.71,18.99C2.67,18.37 2.67,17.26 3.41,16.77C4.15,16.27 6.13,15.78 8.16,16.02C10.19,16.27 13.11,17.38 15.58,18.25C18.05,19.11 20.52,20.35 23.00,21.22C25.47,22.08 29.55,23.94 30.42,23.44C31.28,22.95 29.18,19.86 28.19,18.25C27.20,16.64 25.59,15.16 24.48,13.80C23.37,12.44 22.13,11.20 21.51,10.09C20.90,8.98 20.77,8.36 20.77,7.12Z"/></clipPath>
<g filter="url(#b06)">
<path d="M20.77,7.12C20.77,5.89 20.65,3.66 21.51,2.67C22.38,1.68 23.99,1.26 25.96,1.19C27.94,1.11 30.66,1.56 33.38,2.23C36.10,2.89 39.56,4.01 42.28,5.19C45.00,6.38 47.48,7.91 49.70,9.35C51.93,10.78 53.91,12.81 55.64,13.80C57.37,14.79 58.85,15.58 60.09,15.28C61.33,14.99 61.57,12.76 63.06,12.02C64.54,11.28 67.46,10.66 68.99,10.83C70.52,11.00 71.81,11.94 72.26,13.06C72.70,14.17 72.45,16.15 71.66,17.51C70.87,18.87 69.19,20.23 67.51,21.22C65.83,22.21 62.81,22.33 61.57,23.44C60.34,24.55 59.84,25.79 60.09,27.89C60.34,30.00 61.82,33.21 63.06,36.05C64.29,38.90 66.15,41.74 67.51,44.96C68.87,48.17 70.35,51.88 71.22,55.34C72.08,58.80 72.70,61.77 72.70,65.73C72.70,69.68 72.08,74.88 71.22,79.08C70.35,83.28 69.11,87.49 67.51,90.95C65.90,94.41 63.55,97.82 61.57,99.85C59.59,101.88 59.59,102.57 55.64,103.12C51.68,103.66 41.54,103.29 37.83,103.12C34.12,102.94 35.36,102.18 33.38,102.08C31.40,101.98 28.93,102.60 25.96,102.52C23.00,102.45 19.04,102.08 15.58,101.63C12.12,101.19 7.29,100.52 5.19,99.85C3.09,99.18 2.72,98.49 2.97,97.63C3.21,96.76 4.57,95.15 6.68,94.66C8.78,94.16 12.61,94.49 15.58,94.66C18.55,94.83 22.38,95.82 24.48,95.70C26.58,95.57 27.94,95.70 28.19,93.92C28.44,92.14 26.58,88.48 25.96,85.01C25.35,81.55 24.60,77.10 24.48,73.15C24.36,69.19 24.73,64.49 25.22,61.28C25.72,58.06 27.57,56.33 27.45,53.86C27.32,51.38 25.96,48.66 24.48,46.44C23.00,44.21 19.91,42.36 18.55,40.50C17.19,38.65 16.07,36.92 16.32,35.31C16.57,33.70 19.66,32.10 20.03,30.86C20.40,29.62 19.29,29.01 18.55,27.89C17.80,26.78 17.06,25.42 15.58,24.18C14.09,22.95 11.62,21.34 9.64,20.47C7.67,19.61 4.75,19.61 3.71,18.99C2.67,18.37 2.67,17.26 3.41,16.77C4.15,16.27 6.13,15.78 8.16,16.02C10.19,16.27 13.11,17.38 15.58,18.25C18.05,19.11 20.52,20.35 23.00,21.22C25.47,22.08 29.55,23.94 30.42,23.44C31.28,22.95 29.18,19.86 28.19,18.25C27.20,16.64 25.59,15.16 24.48,13.80C23.37,12.44 22.13,11.20 21.51,10.09C20.90,8.98 20.77,8.36 20.77,7.12Z" fill="#cacaca"/>
<g clip-path="url(#mc4)">
<ellipse cx="43.77" cy="33.09" rx="17.80" ry="8.90" fill="#a8a8a8" opacity="0.45" filter="url(#b15)"/>
<ellipse cx="49.70" cy="64.24" rx="22.26" ry="37.09" fill="#e2e2e2" opacity="0.95" filter="url(#b15)"/>
<ellipse cx="37.83" cy="11.57" rx="16.32" ry="8.16" fill="#bcbcbc" opacity="0.5" filter="url(#b15)"/>
<ellipse cx="66.02" cy="16.77" rx="5.93" ry="4.45" fill="#a8a8a8" opacity="0.5" filter="url(#b15)"/>
<ellipse cx="25.96" cy="39.02" rx="6.68" ry="6.68" fill="#bbb" opacity="0.45" filter="url(#b15)"/>
<ellipse cx="26.71" cy="73.15" rx="3.26" ry="16.32" fill="#8e8e8e" opacity="0.4" filter="url(#b15)"/>
<ellipse cx="33.38" cy="98.66" rx="2.97" ry="2.37" fill="#222" opacity="0.8" filter="url(#b15)"/>
<ellipse cx="59.35" cy="10.09" rx="1.48" ry="4.15" fill="#333" opacity="0.7" filter="url(#b15)"/>
<ellipse cx="15.58" cy="20.47" rx="11.87" ry="2.67" fill="#e8e8e8" opacity="0.8" filter="url(#b15)"/>
<ellipse cx="17.06" cy="98.37" rx="13.35" ry="2.67" fill="#eaeaea" opacity="0.8" filter="url(#b15)"/>
</g>
<path d="M34.87,23.44C42.28,26.41 51.19,25.67 58.61,22.70" fill="none" stroke="#f4f4f4" stroke-width="1.2" opacity="0.7" stroke-linecap="round"/>
<path d="M68.99,49.41C72.70,61.28 72.26,76.11 68.99,87.98" fill="none" stroke="#fbfbfb" stroke-width="1.6" opacity="0.6" stroke-linecap="round"/>
<path d="M18.55,33.09C23.00,39.02 25.96,40.50 30.42,40.50" fill="none" stroke="#f0f0f0" stroke-width="1.2" opacity="0.6" stroke-linecap="round"/>
</g>
</svg>
<rect x="464" y="31.5" width="31.2" height="104.5" fill="#f6f6f6"/>
<rect x="450.7" y="31.5" width="13.5" height="103.3" fill="url(#cbar)"/>
<text x="466.20" y="40.17" font-size="8.3" font-weight="normal" text-anchor="start" fill="#222" >310.00</text>
<text x="466.20" y="68.77" font-size="8.3" font-weight="normal" text-anchor="start" fill="#222" >296.67</text>
<text x="466.20" y="103.37" font-size="8.3" font-weight="normal" text-anchor="start" fill="#222" >283.33</text>
<text x="466.20" y="132.57" font-size="8.3" font-weight="normal" text-anchor="start" fill="#222" >270.00</text>
<text x="71.10" y="223.89" font-size="10.3" font-weight="bold" text-anchor="middle" fill="#111"  stroke="#111" stroke-width="0.25">Heart</text>
<text x="148.10" y="223.89" font-size="10.3" font-weight="bold" text-anchor="middle" fill="#111"  stroke="#111" stroke-width="0.25">Liver</text>
<text x="225.10" y="223.89" font-size="10.3" font-weight="bold" text-anchor="middle" fill="#111"  stroke="#111" stroke-width="0.25">Spleen</text>
<text x="302.30" y="223.89" font-size="10.3" font-weight="bold" text-anchor="middle" fill="#111"  stroke="#111" stroke-width="0.25">Lung</text>
<text x="379.40" y="223.89" font-size="10.3" font-weight="bold" text-anchor="middle" fill="#111"  stroke="#111" stroke-width="0.25">Kidney</text>
<text x="456.80" y="223.89" font-size="10.3" font-weight="bold" text-anchor="middle" fill="#111"  stroke="#111" stroke-width="0.25">Tumor</text>
<rect x="33.9" y="138.8" width="74.4" height="74.5" fill="#060606"/>
<rect x="110.9" y="138.8" width="74.4" height="74.5" fill="#060606"/>
<rect x="187.9" y="138.8" width="74.4" height="74.5" fill="#060606"/>
<rect x="265.1" y="138.8" width="74.4" height="74.5" fill="#060606"/>
<rect x="342.2" y="138.8" width="74.4" height="74.5" fill="#060606"/>
<rect x="419.6" y="138.8" width="74.4" height="74.5" fill="#060606"/>
<defs><radialGradient id="tumg" cx="0.5" cy="0.32" r="0.7"><stop offset="0" stop-color="#a4a4a4"/><stop offset="0.55" stop-color="#858585"/><stop offset="1" stop-color="#4a4a4a"/></radialGradient><radialGradient id="hrtg" cx="0.5" cy="0.5" r="0.6"><stop offset="0" stop-color="#b0b0b0"/><stop offset="0.7" stop-color="#9c9c9c"/><stop offset="1" stop-color="#6a6a6a"/></radialGradient><radialGradient id="kidg" cx="0.5" cy="0.5" r="0.6"><stop offset="0" stop-color="#727272"/><stop offset="0.7" stop-color="#626262"/><stop offset="1" stop-color="#3c3c3c"/></radialGradient></defs>
<g filter="url(#b06)">
<ellipse cx="66.8" cy="188.7" rx="7.6" ry="10.4" fill="url(#hrtg)" transform="rotate(-14 66.8 188.7)"/>
<path d="M114.20,178.37C114.03,173.70 114.45,165.22 115.72,160.55C117.00,155.88 119.54,152.23 121.83,150.37C124.12,148.50 126.92,148.50 129.47,149.35C132.02,150.20 134.73,153.08 137.11,155.46C139.48,157.83 141.61,164.03 143.73,163.60C145.85,163.18 147.12,155.71 149.84,152.91C152.55,150.11 156.20,147.23 160.02,146.80C163.84,146.38 169.36,147.65 172.75,150.37C176.14,153.08 178.86,158.43 180.39,163.10C181.91,167.76 182.76,173.28 181.91,178.37C181.07,183.46 178.10,189.15 175.30,193.65C172.49,198.14 169.36,203.07 165.11,205.36C160.87,207.65 154.50,208.07 149.84,207.39C145.17,206.71 141.35,203.57 137.11,201.28C132.86,198.99 127.77,195.77 124.38,193.65C120.98,191.52 118.44,191.10 116.74,188.55C115.04,186.01 114.37,183.04 114.20,178.37Z" fill="#4e4e4e"/>
<ellipse cx="150" cy="178" rx="20" ry="14" fill="#5a5a5a" opacity="0.6" filter="url(#b2)"/>
<path d="M219.59,145.27C221.71,142.47 225.96,141.20 228.76,141.20C231.56,141.20 234.87,142.90 236.40,145.27C237.92,147.65 238.35,151.22 237.92,155.46C237.50,159.70 234.95,165.64 233.85,170.73C232.75,175.82 231.13,181.34 231.30,186.01C231.47,190.68 234.02,195.34 234.87,198.74C235.72,202.13 237.41,204.68 236.40,206.37C235.38,208.07 231.30,209.77 228.76,208.92C226.21,208.07 223.24,204.68 221.12,201.28C219.00,197.89 217.13,193.22 216.03,188.55C214.93,183.89 214.50,178.37 214.50,173.28C214.50,168.19 215.18,162.67 216.03,158.00C216.88,153.34 217.47,148.08 219.59,145.27Z" fill="#3e3e3e"/>
<ellipse cx="227" cy="150" rx="2.2" ry="3" fill="#6a6a6a"/>
<path d="M294.91,177.64C295.88,174.24 300.48,170.75 303.64,168.91C306.79,167.07 310.67,166.34 313.82,166.58C316.97,166.82 319.64,169.59 322.55,170.36C325.45,171.14 328.99,169.54 331.27,171.24C333.55,172.93 335.73,177.30 336.22,180.55C336.70,183.79 335.98,187.58 334.18,190.73C332.39,193.88 328.61,197.66 325.45,199.45C322.30,201.25 318.42,201.98 315.27,201.49C312.12,201.01 309.45,198.58 306.55,196.55C303.64,194.51 299.76,192.42 297.82,189.27C295.88,186.12 293.94,181.03 294.91,177.64Z" fill="#e4e4e4"/>
<path d="M303.64,177.64C305.33,176.18 314.06,174.00 316.73,174.73C319.39,175.45 320.12,179.58 319.64,182.00C319.15,184.42 316.00,189.03 313.82,189.27C311.64,189.52 308.24,185.39 306.55,183.45C304.85,181.52 301.94,179.09 303.64,177.64Z" fill="#4a4a4a"/>
<path d="M314,184L320,197" stroke="#8a8a8a" stroke-width="1.2"/>
<ellipse cx="378.2" cy="170" rx="9.6" ry="14" fill="url(#kidg)" transform="rotate(12 378.2 170)"/>
<ellipse cx="383" cy="164.5" rx="2.4" ry="5" fill="#d8d8d8" transform="rotate(15 383 164.5)"/>
<ellipse cx="404.5" cy="172" rx="10" ry="14.5" fill="url(#kidg)" transform="rotate(-8 404.5 172)"/>
<ellipse cx="399.5" cy="177" rx="2.6" ry="6" fill="#d0d0d0" transform="rotate(-10 399.5 177)"/>
<path d="M391.5,178L389,208" stroke="#1e1e1e" stroke-width="1.6"/>
<path d="M448.17,160.53C450.50,157.99 454.53,154.26 458.35,152.90C462.16,151.54 467.46,151.33 471.07,152.39C474.67,153.45 477.85,156.00 479.97,159.26C482.09,162.53 483.37,167.11 483.79,171.98C484.22,176.86 483.88,184.07 482.52,188.52C481.16,192.98 479.25,196.58 475.65,198.70C472.04,200.82 465.47,201.88 460.89,201.25C456.31,200.61 451.14,198.07 448.17,194.89C445.20,191.70 443.72,186.62 443.08,182.16C442.44,177.71 443.50,171.77 444.35,168.17C445.20,164.56 445.84,163.08 448.17,160.53Z" fill="url(#tumg)"/>
<ellipse cx="466" cy="189.8" rx="10.4" ry="10.2" fill="#2090e0"/>
<ellipse cx="466" cy="189.8" rx="9.9" ry="9.7" fill="#20d0c8"/>
<ellipse cx="466" cy="189.8" rx="9.4" ry="9.2" fill="#50e020"/>
<ellipse cx="466" cy="189.8" rx="8.7" ry="8.7" fill="#ff1408"/>
</g>
<rect x="496.6" y="139" width="7.2" height="73" fill="url(#cbar)"/>
<text x="506.00" y="143.99" font-size="5.0" font-weight="normal" text-anchor="start" fill="#222" >196.02</text>
<text x="506.00" y="164.99" font-size="5.0" font-weight="normal" text-anchor="start" fill="#222" >190.75</text>
<text x="506.00" y="189.79" font-size="5.0" font-weight="normal" text-anchor="start" fill="#222" >185.47</text>
<text x="506.00" y="210.19" font-size="5.0" font-weight="normal" text-anchor="start" fill="#222" >180.19</text>
<text x="5.40" y="258.86" font-size="13.3" font-weight="bold" text-anchor="start" fill="#111"  stroke="#111" stroke-width="0.25">B</text>
<line x1="72.5" y1="270.2" x2="85.5" y2="270.2" stroke="#d2596b" stroke-width="1.4"/>
<circle cx="79.0" cy="270.2" r="3.6" fill="#d2596b"/>
<text x="93.70" y="274.56" font-size="11.9" font-weight="bold" text-anchor="start" fill="#111"  stroke="#111" stroke-width="0.25">Control</text>
<line x1="72.5" y1="287.3" x2="85.5" y2="287.3" stroke="#4b2b2e" stroke-width="1.4"/>
<circle cx="79.0" cy="287.3" r="3.6" fill="#4b2b2e"/>
<text x="93.70" y="291.66" font-size="11.9" font-weight="bold" text-anchor="start" fill="#111"  stroke="#111" stroke-width="0.25">ZB@CCM</text>
<line x1="72.5" y1="304.5" x2="85.5" y2="304.5" stroke="#ef7463" stroke-width="1.4"/>
<circle cx="79.0" cy="304.5" r="3.6" fill="#ef7463"/>
<text x="93.70" y="308.86" font-size="11.9" font-weight="bold" text-anchor="start" fill="#111"  stroke="#111" stroke-width="0.25">IN10018</text>
<line x1="72.5" y1="321.6" x2="85.5" y2="321.6" stroke="#f7c873" stroke-width="1.4"/>
<circle cx="79.0" cy="321.6" r="3.6" fill="#f7c873"/>
<text x="93.70" y="325.96" font-size="11.9" font-weight="bold" text-anchor="start" fill="#111"  stroke="#111" stroke-width="0.25">IZB@CCM</text>
<line x1="154.3" y1="269.4" x2="167.3" y2="269.4" stroke="#46b899" stroke-width="1.4"/>
<circle cx="160.8" cy="269.4" r="3.6" fill="#46b899"/>
<text x="174.80" y="273.76" font-size="11.9" font-weight="bold" text-anchor="start" fill="#111"  stroke="#111" stroke-width="0.25">IN10018+RT</text>
<line x1="154.3" y1="287.0" x2="167.3" y2="287.0" stroke="#4a8db0" stroke-width="1.4"/>
<circle cx="160.8" cy="287.0" r="3.6" fill="#4a8db0"/>
<text x="174.80" y="291.36" font-size="11.9" font-weight="bold" text-anchor="start" fill="#111"  stroke="#111" stroke-width="0.25">ZB@CCM+RT</text>
<line x1="154.3" y1="304.2" x2="167.3" y2="304.2" stroke="#6b62a6" stroke-width="1.4"/>
<circle cx="160.8" cy="304.2" r="3.6" fill="#6b62a6"/>
<text x="174.80" y="308.56" font-size="11.9" font-weight="bold" text-anchor="start" fill="#111"  stroke="#111" stroke-width="0.25">IZB@CCM+RT</text>
<path d="M107.57,446.64V448.75M104.37,446.64h6.4M104.37,448.75h6.4" stroke="#6b62a6" stroke-width="1.1" fill="none"/>
<path d="M126.54,446.64V449.45M123.34,446.64h6.4M123.34,449.45h6.4" stroke="#6b62a6" stroke-width="1.1" fill="none"/>
<path d="M145.51,444.54V448.05M142.31,444.54h6.4M142.31,448.05h6.4" stroke="#6b62a6" stroke-width="1.1" fill="none"/>
<path d="M164.48,443.66V447.17M161.28,443.66h6.4M161.28,447.17h6.4" stroke="#6b62a6" stroke-width="1.1" fill="none"/>
<path d="M183.45,438.39V442.61M180.25,438.39h6.4M180.25,442.61h6.4" stroke="#6b62a6" stroke-width="1.1" fill="none"/>
<path d="M202.42,436.46V444.19M199.22,436.46h6.4M199.22,444.19h6.4" stroke="#6b62a6" stroke-width="1.1" fill="none"/>
<path d="M221.39,434.01V437.52M218.19,434.01h6.4M218.19,437.52h6.4" stroke="#6b62a6" stroke-width="1.1" fill="none"/>
<polyline points="88.60,449.10 107.57,447.69 126.54,448.05 145.51,446.29 164.48,445.41 183.45,440.50 202.42,440.32 221.39,435.76" fill="none" stroke="#6b62a6" stroke-width="1.4"/>
<circle cx="88.60" cy="449.10" r="3.5" fill="#6b62a6"/>
<circle cx="107.57" cy="447.69" r="3.5" fill="#6b62a6"/>
<circle cx="126.54" cy="448.05" r="3.5" fill="#6b62a6"/>
<circle cx="145.51" cy="446.29" r="3.5" fill="#6b62a6"/>
<circle cx="164.48" cy="445.41" r="3.5" fill="#6b62a6"/>
<circle cx="183.45" cy="440.50" r="3.5" fill="#6b62a6"/>
<circle cx="202.42" cy="440.32" r="3.5" fill="#6b62a6"/>
<circle cx="221.39" cy="435.76" r="3.5" fill="#6b62a6"/>
<path d="M107.57,445.41V448.22M104.37,445.41h6.4M104.37,448.22h6.4" stroke="#4a8db0" stroke-width="1.1" fill="none"/>
<path d="M126.54,442.08V446.99M123.34,442.08h6.4M123.34,446.99h6.4" stroke="#4a8db0" stroke-width="1.1" fill="none"/>
<path d="M145.51,436.11V443.13M142.31,436.11h6.4M142.31,443.13h6.4" stroke="#4a8db0" stroke-width="1.1" fill="none"/>
<path d="M164.48,428.04V437.17M161.28,428.04h6.4M161.28,437.17h6.4" stroke="#4a8db0" stroke-width="1.1" fill="none"/>
<path d="M183.45,419.97V430.50M180.25,419.97h6.4M180.25,430.50h6.4" stroke="#4a8db0" stroke-width="1.1" fill="none"/>
<path d="M202.42,412.24V420.67M199.22,412.24h6.4M199.22,420.67h6.4" stroke="#4a8db0" stroke-width="1.1" fill="none"/>
<path d="M221.39,403.47V409.08M218.19,403.47h6.4M218.19,409.08h6.4" stroke="#4a8db0" stroke-width="1.1" fill="none"/>
<polyline points="88.60,449.10 107.57,446.82 126.54,444.54 145.51,439.62 164.48,432.60 183.45,425.23 202.42,416.46 221.39,406.28" fill="none" stroke="#4a8db0" stroke-width="1.4"/>
<circle cx="88.60" cy="449.10" r="3.5" fill="#4a8db0"/>
<circle cx="107.57" cy="446.82" r="3.5" fill="#4a8db0"/>
<circle cx="126.54" cy="444.54" r="3.5" fill="#4a8db0"/>
<circle cx="145.51" cy="439.62" r="3.5" fill="#4a8db0"/>
<circle cx="164.48" cy="432.60" r="3.5" fill="#4a8db0"/>
<circle cx="183.45" cy="425.23" r="3.5" fill="#4a8db0"/>
<circle cx="202.42" cy="416.46" r="3.5" fill="#4a8db0"/>
<circle cx="221.39" cy="406.28" r="3.5" fill="#4a8db0"/>
<path d="M107.57,445.59V448.40M104.37,445.59h6.4M104.37,448.40h6.4" stroke="#46b899" stroke-width="1.1" fill="none"/>
<path d="M126.54,442.61V447.52M123.34,442.61h6.4M123.34,447.52h6.4" stroke="#46b899" stroke-width="1.1" fill="none"/>
<path d="M145.51,436.81V444.54M142.31,436.81h6.4M142.31,444.54h6.4" stroke="#46b899" stroke-width="1.1" fill="none"/>
<path d="M164.48,429.09V439.62M161.28,429.09h6.4M161.28,439.62h6.4" stroke="#46b899" stroke-width="1.1" fill="none"/>
<path d="M183.45,421.02V435.06M180.25,421.02h6.4M180.25,435.06h6.4" stroke="#46b899" stroke-width="1.1" fill="none"/>
<path d="M202.42,417.16V424.18M199.22,417.16h6.4M199.22,424.18h6.4" stroke="#46b899" stroke-width="1.1" fill="none"/>
<path d="M221.39,404.00V408.91M218.19,404.00h6.4M218.19,408.91h6.4" stroke="#46b899" stroke-width="1.1" fill="none"/>
<polyline points="88.60,449.10 107.57,446.99 126.54,445.06 145.51,440.68 164.48,434.36 183.45,428.04 202.42,420.67 221.39,406.45" fill="none" stroke="#46b899" stroke-width="1.4"/>
<circle cx="88.60" cy="449.10" r="3.5" fill="#46b899"/>
<circle cx="107.57" cy="446.99" r="3.5" fill="#46b899"/>
<circle cx="126.54" cy="445.06" r="3.5" fill="#46b899"/>
<circle cx="145.51" cy="440.68" r="3.5" fill="#46b899"/>
<circle cx="164.48" cy="434.36" r="3.5" fill="#46b899"/>
<circle cx="183.45" cy="428.04" r="3.5" fill="#46b899"/>
<circle cx="202.42" cy="420.67" r="3.5" fill="#46b899"/>
<circle cx="221.39" cy="406.45" r="3.5" fill="#46b899"/>
<path d="M107.57,444.89V448.40M104.37,444.89h6.4M104.37,448.40h6.4" stroke="#f7c873" stroke-width="1.1" fill="none"/>
<path d="M126.54,440.68V446.99M123.34,440.68h6.4M123.34,446.99h6.4" stroke="#f7c873" stroke-width="1.1" fill="none"/>
<path d="M145.51,432.95V442.78M142.31,432.95h6.4M142.31,442.78h6.4" stroke="#f7c873" stroke-width="1.1" fill="none"/>
<path d="M164.48,424.88V438.92M161.28,424.88h6.4M161.28,438.92h6.4" stroke="#f7c873" stroke-width="1.1" fill="none"/>
<path d="M183.45,414.70V428.74M180.25,414.70h6.4M180.25,428.74h6.4" stroke="#f7c873" stroke-width="1.1" fill="none"/>
<path d="M202.42,407.33V419.26M199.22,407.33h6.4M199.22,419.26h6.4" stroke="#f7c873" stroke-width="1.1" fill="none"/>
<path d="M221.39,398.91V409.44M218.19,398.91h6.4M218.19,409.44h6.4" stroke="#f7c873" stroke-width="1.1" fill="none"/>
<polyline points="88.60,449.10 107.57,446.64 126.54,443.83 145.51,437.87 164.48,431.90 183.45,421.72 202.42,413.30 221.39,404.17" fill="none" stroke="#f7c873" stroke-width="1.4"/>
<circle cx="88.60" cy="449.10" r="3.5" fill="#f7c873"/>
<circle cx="107.57" cy="446.64" r="3.5" fill="#f7c873"/>
<circle cx="126.54" cy="443.83" r="3.5" fill="#f7c873"/>
<circle cx="145.51" cy="437.87" r="3.5" fill="#f7c873"/>
<circle cx="164.48" cy="431.90" r="3.5" fill="#f7c873"/>
<circle cx="183.45" cy="421.72" r="3.5" fill="#f7c873"/>
<circle cx="202.42" cy="413.30" r="3.5" fill="#f7c873"/>
<circle cx="221.39" cy="404.17" r="3.5" fill="#f7c873"/>
<path d="M107.57,443.48V448.40M104.37,443.48h6.4M104.37,448.40h6.4" stroke="#ef7463" stroke-width="1.1" fill="none"/>
<path d="M126.54,434.01V444.54M123.34,434.01h6.4M123.34,444.54h6.4" stroke="#ef7463" stroke-width="1.1" fill="none"/>
<path d="M145.51,425.58V439.62M142.31,425.58h6.4M142.31,439.62h6.4" stroke="#ef7463" stroke-width="1.1" fill="none"/>
<path d="M164.48,413.47V431.02M161.28,413.47h6.4M161.28,431.02h6.4" stroke="#ef7463" stroke-width="1.1" fill="none"/>
<path d="M183.45,403.64V426.81M180.25,403.64h6.4M180.25,426.81h6.4" stroke="#ef7463" stroke-width="1.1" fill="none"/>
<path d="M202.42,396.80V412.24M199.22,396.80h6.4M199.22,412.24h6.4" stroke="#ef7463" stroke-width="1.1" fill="none"/>
<path d="M221.39,389.78V393.99M218.19,389.78h6.4M218.19,393.99h6.4" stroke="#ef7463" stroke-width="1.1" fill="none"/>
<polyline points="88.60,449.10 107.57,445.94 126.54,439.27 145.51,432.60 164.48,422.25 183.45,415.23 202.42,404.52 221.39,391.89" fill="none" stroke="#ef7463" stroke-width="1.4"/>
<circle cx="88.60" cy="449.10" r="3.5" fill="#ef7463"/>
<circle cx="107.57" cy="445.94" r="3.5" fill="#ef7463"/>
<circle cx="126.54" cy="439.27" r="3.5" fill="#ef7463"/>
<circle cx="145.51" cy="432.60" r="3.5" fill="#ef7463"/>
<circle cx="164.48" cy="422.25" r="3.5" fill="#ef7463"/>
<circle cx="183.45" cy="415.23" r="3.5" fill="#ef7463"/>
<circle cx="202.42" cy="404.52" r="3.5" fill="#ef7463"/>
<circle cx="221.39" cy="391.89" r="3.5" fill="#ef7463"/>
<path d="M107.57,441.73V448.75M104.37,441.73h6.4M104.37,448.75h6.4" stroke="#4b2b2e" stroke-width="1.1" fill="none"/>
<path d="M126.54,434.18V444.71M123.34,434.18h6.4M123.34,444.71h6.4" stroke="#4b2b2e" stroke-width="1.1" fill="none"/>
<path d="M145.51,425.23V439.27M142.31,425.23h6.4M142.31,439.27h6.4" stroke="#4b2b2e" stroke-width="1.1" fill="none"/>
<path d="M164.48,404.70V424.00M161.28,404.70h6.4M161.28,424.00h6.4" stroke="#4b2b2e" stroke-width="1.1" fill="none"/>
<path d="M183.45,388.38V398.91M180.25,388.38h6.4M180.25,398.91h6.4" stroke="#4b2b2e" stroke-width="1.1" fill="none"/>
<path d="M202.42,356.26V375.92M199.22,356.26h6.4M199.22,375.92h6.4" stroke="#4b2b2e" stroke-width="1.1" fill="none"/>
<path d="M221.39,327.83V346.08M218.19,327.83h6.4M218.19,346.08h6.4" stroke="#4b2b2e" stroke-width="1.1" fill="none"/>
<polyline points="88.60,449.10 107.57,445.24 126.54,439.45 145.51,432.25 164.48,414.35 183.45,393.64 202.42,366.09 221.39,336.95" fill="none" stroke="#4b2b2e" stroke-width="1.4"/>
<circle cx="88.60" cy="449.10" r="3.5" fill="#4b2b2e"/>
<circle cx="107.57" cy="445.24" r="3.5" fill="#4b2b2e"/>
<circle cx="126.54" cy="439.45" r="3.5" fill="#4b2b2e"/>
<circle cx="145.51" cy="432.25" r="3.5" fill="#4b2b2e"/>
<circle cx="164.48" cy="414.35" r="3.5" fill="#4b2b2e"/>
<circle cx="183.45" cy="393.64" r="3.5" fill="#4b2b2e"/>
<circle cx="202.42" cy="366.09" r="3.5" fill="#4b2b2e"/>
<circle cx="221.39" cy="336.95" r="3.5" fill="#4b2b2e"/>
<path d="M107.57,438.22V450.85M104.37,438.22h6.4M104.37,450.85h6.4" stroke="#d2596b" stroke-width="1.1" fill="none"/>
<path d="M126.54,425.06V444.71M123.34,425.06h6.4M123.34,444.71h6.4" stroke="#d2596b" stroke-width="1.1" fill="none"/>
<path d="M145.51,410.84V434.71M142.31,410.84h6.4M142.31,434.71h6.4" stroke="#d2596b" stroke-width="1.1" fill="none"/>
<path d="M164.48,387.67V418.56M161.28,387.67h6.4M161.28,418.56h6.4" stroke="#d2596b" stroke-width="1.1" fill="none"/>
<path d="M183.45,370.12V396.10M180.25,370.12h6.4M180.25,396.10h6.4" stroke="#d2596b" stroke-width="1.1" fill="none"/>
<path d="M202.42,340.99V376.09M199.22,340.99h6.4M199.22,376.09h6.4" stroke="#d2596b" stroke-width="1.1" fill="none"/>
<path d="M221.39,323.09V344.15M218.19,323.09h6.4M218.19,344.15h6.4" stroke="#d2596b" stroke-width="1.1" fill="none"/>
<polyline points="88.60,449.10 107.57,444.54 126.54,434.88 145.51,422.77 164.48,403.12 183.45,383.11 202.42,358.54 221.39,333.62" fill="none" stroke="#d2596b" stroke-width="1.4"/>
<circle cx="88.60" cy="449.10" r="3.5" fill="#d2596b"/>
<circle cx="107.57" cy="444.54" r="3.5" fill="#d2596b"/>
<circle cx="126.54" cy="434.88" r="3.5" fill="#d2596b"/>
<circle cx="145.51" cy="422.77" r="3.5" fill="#d2596b"/>
<circle cx="164.48" cy="403.12" r="3.5" fill="#d2596b"/>
<circle cx="183.45" cy="383.11" r="3.5" fill="#d2596b"/>
<circle cx="202.42" cy="358.54" r="3.5" fill="#d2596b"/>
<circle cx="221.39" cy="333.62" r="3.5" fill="#d2596b"/>
<path d="M69.3,290.9V467.0H240.5" fill="none" stroke="#111" stroke-width="1.5"/>
<line x1="63.9" y1="467.00" x2="69.3" y2="467.00" stroke="#111" stroke-width="1.5"/>
<text x="62.50" y="470.84" font-size="11.7" font-weight="bold" text-anchor="end" fill="#111"  stroke="#111" stroke-width="0.25">0</text>
<line x1="63.9" y1="431.90" x2="69.3" y2="431.90" stroke="#111" stroke-width="1.5"/>
<text x="62.50" y="435.74" font-size="11.7" font-weight="bold" text-anchor="end" fill="#111"  stroke="#111" stroke-width="0.25">200</text>
<line x1="63.9" y1="396.80" x2="69.3" y2="396.80" stroke="#111" stroke-width="1.5"/>
<text x="62.50" y="400.64" font-size="11.7" font-weight="bold" text-anchor="end" fill="#111"  stroke="#111" stroke-width="0.25">400</text>
<line x1="63.9" y1="361.70" x2="69.3" y2="361.70" stroke="#111" stroke-width="1.5"/>
<text x="62.50" y="365.54" font-size="11.7" font-weight="bold" text-anchor="end" fill="#111"  stroke="#111" stroke-width="0.25">600</text>
<line x1="63.9" y1="326.60" x2="69.3" y2="326.60" stroke="#111" stroke-width="1.5"/>
<text x="62.50" y="330.44" font-size="11.7" font-weight="bold" text-anchor="end" fill="#111"  stroke="#111" stroke-width="0.25">800</text>
<line x1="63.9" y1="291.50" x2="69.3" y2="291.50" stroke="#111" stroke-width="1.5"/>
<text x="62.50" y="295.34" font-size="11.7" font-weight="bold" text-anchor="end" fill="#111"  stroke="#111" stroke-width="0.25">1000</text>
<line x1="88.60" y1="467.0" x2="88.60" y2="472.2" stroke="#111" stroke-width="1.5"/>
<text x="88.60" y="482.35" font-size="11.6" font-weight="bold" text-anchor="middle" fill="#111"  stroke="#111" stroke-width="0.25">10</text>
<line x1="107.57" y1="467.0" x2="107.57" y2="472.2" stroke="#111" stroke-width="1.5"/>
<text x="107.57" y="482.35" font-size="11.6" font-weight="bold" text-anchor="middle" fill="#111"  stroke="#111" stroke-width="0.25">12</text>
<line x1="126.54" y1="467.0" x2="126.54" y2="472.2" stroke="#111" stroke-width="1.5"/>
<text x="126.54" y="482.35" font-size="11.6" font-weight="bold" text-anchor="middle" fill="#111"  stroke="#111" stroke-width="0.25">14</text>
<line x1="145.51" y1="467.0" x2="145.51" y2="472.2" stroke="#111" stroke-width="1.5"/>
<text x="145.51" y="482.35" font-size="11.6" font-weight="bold" text-anchor="middle" fill="#111"  stroke="#111" stroke-width="0.25">16</text>
<line x1="164.48" y1="467.0" x2="164.48" y2="472.2" stroke="#111" stroke-width="1.5"/>
<text x="164.48" y="482.35" font-size="11.6" font-weight="bold" text-anchor="middle" fill="#111"  stroke="#111" stroke-width="0.25">18</text>
<line x1="183.45" y1="467.0" x2="183.45" y2="472.2" stroke="#111" stroke-width="1.5"/>
<text x="183.45" y="482.35" font-size="11.6" font-weight="bold" text-anchor="middle" fill="#111"  stroke="#111" stroke-width="0.25">20</text>
<line x1="202.42" y1="467.0" x2="202.42" y2="472.2" stroke="#111" stroke-width="1.5"/>
<text x="202.42" y="482.35" font-size="11.6" font-weight="bold" text-anchor="middle" fill="#111"  stroke="#111" stroke-width="0.25">22</text>
<line x1="221.39" y1="467.0" x2="221.39" y2="472.2" stroke="#111" stroke-width="1.5"/>
<text x="221.39" y="482.35" font-size="11.6" font-weight="bold" text-anchor="middle" fill="#111"  stroke="#111" stroke-width="0.25">24</text>
<text x="158.20" y="500.45" font-size="10.2" font-weight="bold" text-anchor="middle" fill="#111"  stroke="#111" stroke-width="0.25">Days Post implantation</text>
<text transform="translate(32.8,377.7) rotate(-90)" font-size="12" font-weight="bold" text-anchor="middle" fill="#111" stroke="#111" stroke-width="0.25">Tumor Volume (mm<tspan font-size="8" dy="-4.4">3</tspan><tspan dy="4.4">)</tspan></text>
<path d="M248.2,331.3H254.3V435H248.2" fill="none" stroke="#4a4a4a" stroke-width="1"/>
<text x="260.00" y="390.44" font-size="11" font-weight="bold" text-anchor="middle" fill="#111"  stroke="#111" stroke-width="0.15">**</text>
<path d="M230.3,405.8H239V435H230.3" fill="none" stroke="#4a4a4a" stroke-width="1"/>
<text x="244.50" y="426.94" font-size="11" font-weight="bold" text-anchor="middle" fill="#111"  stroke="#111" stroke-width="0.15">**</text>
<text x="287.20" y="258.86" font-size="13.3" font-weight="bold" text-anchor="start" fill="#111"  stroke="#111" stroke-width="0.25">C</text>
<line x1="351.9" y1="268.3" x2="364.9" y2="268.3" stroke="#d2596b" stroke-width="1.4"/>
<circle cx="358.4" cy="268.3" r="3.6" fill="#d2596b"/>
<text x="373.10" y="272.66" font-size="11.9" font-weight="bold" text-anchor="start" fill="#111"  stroke="#111" stroke-width="0.25">Control</text>
<line x1="351.9" y1="285.9" x2="364.9" y2="285.9" stroke="#4b2b2e" stroke-width="1.4"/>
<circle cx="358.4" cy="285.9" r="3.6" fill="#4b2b2e"/>
<text x="373.10" y="290.26" font-size="11.9" font-weight="bold" text-anchor="start" fill="#111"  stroke="#111" stroke-width="0.25">ZB@CCM</text>
<line x1="351.9" y1="303.1" x2="364.9" y2="303.1" stroke="#ef7463" stroke-width="1.4"/>
<circle cx="358.4" cy="303.1" r="3.6" fill="#ef7463"/>
<text x="373.10" y="307.46" font-size="11.9" font-weight="bold" text-anchor="start" fill="#111"  stroke="#111" stroke-width="0.25">IN10018</text>
<line x1="351.9" y1="320.4" x2="364.9" y2="320.4" stroke="#f7c873" stroke-width="1.4"/>
<circle cx="358.4" cy="320.4" r="3.6" fill="#f7c873"/>
<text x="373.10" y="324.76" font-size="11.9" font-weight="bold" text-anchor="start" fill="#111"  stroke="#111" stroke-width="0.25">IZB@CCM</text>
<line x1="436.6" y1="268.1" x2="449.6" y2="268.1" stroke="#46b899" stroke-width="1.4"/>
<circle cx="443.1" cy="268.1" r="3.6" fill="#46b899"/>
<text x="457.10" y="272.46" font-size="11.9" font-weight="bold" text-anchor="start" fill="#111"  stroke="#111" stroke-width="0.25">IN10018+RT</text>
<line x1="436.6" y1="285.9" x2="449.6" y2="285.9" stroke="#4a8db0" stroke-width="1.4"/>
<circle cx="443.1" cy="285.9" r="3.6" fill="#4a8db0"/>
<text x="457.10" y="290.26" font-size="11.9" font-weight="bold" text-anchor="start" fill="#111"  stroke="#111" stroke-width="0.25">ZB@CCM+RT</text>
<line x1="436.6" y1="303.1" x2="449.6" y2="303.1" stroke="#6b62a6" stroke-width="1.4"/>
<circle cx="443.1" cy="303.1" r="3.6" fill="#6b62a6"/>
<text x="457.10" y="307.46" font-size="11.9" font-weight="bold" text-anchor="start" fill="#111"  stroke="#111" stroke-width="0.25">IZB@CCM+RT</text>
<path d="M367.90,450.89V457.91M364.70,450.89h6.4M364.70,457.91h6.4" stroke="#6b62a6" stroke-width="1.1" fill="none"/>
<path d="M387.62,446.60V456.35M384.42,446.60h6.4M384.42,456.35h6.4" stroke="#6b62a6" stroke-width="1.1" fill="none"/>
<path d="M407.34,443.68V455.38M404.14,443.68h6.4M404.14,455.38h6.4" stroke="#6b62a6" stroke-width="1.1" fill="none"/>
<path d="M427.06,440.56V453.43M423.86,440.56h6.4M423.86,453.43h6.4" stroke="#6b62a6" stroke-width="1.1" fill="none"/>
<path d="M446.78,440.75V455.57M443.58,440.75h6.4M443.58,455.57h6.4" stroke="#6b62a6" stroke-width="1.1" fill="none"/>
<path d="M466.50,435.49V447.19M463.30,435.49h6.4M463.30,447.19h6.4" stroke="#6b62a6" stroke-width="1.1" fill="none"/>
<path d="M486.22,429.05V454.40M483.02,429.05h6.4M483.02,454.40h6.4" stroke="#6b62a6" stroke-width="1.1" fill="none"/>
<path d="M505.94,429.05V442.70M502.74,429.05h6.4M502.74,442.70h6.4" stroke="#6b62a6" stroke-width="1.1" fill="none"/>
<polyline points="367.90,454.40 387.62,451.48 407.34,449.53 427.06,446.99 446.78,448.16 466.50,441.34 486.22,441.73 505.94,435.88" fill="none" stroke="#6b62a6" stroke-width="1.4"/>
<circle cx="367.90" cy="454.40" r="3.5" fill="#6b62a6"/>
<circle cx="387.62" cy="451.48" r="3.5" fill="#6b62a6"/>
<circle cx="407.34" cy="449.53" r="3.5" fill="#6b62a6"/>
<circle cx="427.06" cy="446.99" r="3.5" fill="#6b62a6"/>
<circle cx="446.78" cy="448.16" r="3.5" fill="#6b62a6"/>
<circle cx="466.50" cy="441.34" r="3.5" fill="#6b62a6"/>
<circle cx="486.22" cy="441.73" r="3.5" fill="#6b62a6"/>
<circle cx="505.94" cy="435.88" r="3.5" fill="#6b62a6"/>
<path d="M367.90,451.28V459.08M364.70,451.28h6.4M364.70,459.08h6.4" stroke="#4a8db0" stroke-width="1.1" fill="none"/>
<path d="M387.62,446.60V455.18M384.42,446.60h6.4M384.42,455.18h6.4" stroke="#4a8db0" stroke-width="1.1" fill="none"/>
<path d="M407.34,443.09V454.79M404.14,443.09h6.4M404.14,454.79h6.4" stroke="#4a8db0" stroke-width="1.1" fill="none"/>
<path d="M427.06,434.90V448.55M423.86,434.90h6.4M423.86,448.55h6.4" stroke="#4a8db0" stroke-width="1.1" fill="none"/>
<path d="M446.78,419.69V435.29M443.58,419.69h6.4M443.58,435.29h6.4" stroke="#4a8db0" stroke-width="1.1" fill="none"/>
<path d="M466.50,412.48V430.03M463.30,412.48h6.4M463.30,430.03h6.4" stroke="#4a8db0" stroke-width="1.1" fill="none"/>
<path d="M486.22,403.90V417.55M483.02,403.90h6.4M483.02,417.55h6.4" stroke="#4a8db0" stroke-width="1.1" fill="none"/>
<path d="M505.94,396.49V408.19M502.74,396.49h6.4M502.74,408.19h6.4" stroke="#4a8db0" stroke-width="1.1" fill="none"/>
<polyline points="367.90,455.18 387.62,450.89 407.34,448.94 427.06,441.73 446.78,427.49 466.50,421.25 486.22,410.72 505.94,402.34" fill="none" stroke="#4a8db0" stroke-width="1.4"/>
<circle cx="367.90" cy="455.18" r="3.5" fill="#4a8db0"/>
<circle cx="387.62" cy="450.89" r="3.5" fill="#4a8db0"/>
<circle cx="407.34" cy="448.94" r="3.5" fill="#4a8db0"/>
<circle cx="427.06" cy="441.73" r="3.5" fill="#4a8db0"/>
<circle cx="446.78" cy="427.49" r="3.5" fill="#4a8db0"/>
<circle cx="466.50" cy="421.25" r="3.5" fill="#4a8db0"/>
<circle cx="486.22" cy="410.72" r="3.5" fill="#4a8db0"/>
<circle cx="505.94" cy="402.34" r="3.5" fill="#4a8db0"/>
<path d="M367.90,450.89V458.69M364.70,450.89h6.4M364.70,458.69h6.4" stroke="#46b899" stroke-width="1.1" fill="none"/>
<path d="M387.62,445.62V455.38M384.42,445.62h6.4M384.42,455.38h6.4" stroke="#46b899" stroke-width="1.1" fill="none"/>
<path d="M407.34,442.70V456.35M404.14,442.70h6.4M404.14,456.35h6.4" stroke="#46b899" stroke-width="1.1" fill="none"/>
<path d="M427.06,434.51V452.06M423.86,434.51h6.4M423.86,452.06h6.4" stroke="#46b899" stroke-width="1.1" fill="none"/>
<path d="M446.78,413.45V442.70M443.58,413.45h6.4M443.58,442.70h6.4" stroke="#46b899" stroke-width="1.1" fill="none"/>
<path d="M466.50,411.31V438.61M463.30,411.31h6.4M463.30,438.61h6.4" stroke="#46b899" stroke-width="1.1" fill="none"/>
<path d="M486.22,403.70V424.37M483.02,403.70h6.4M483.02,424.37h6.4" stroke="#46b899" stroke-width="1.1" fill="none"/>
<path d="M505.94,388.88V410.72M502.74,388.88h6.4M502.74,410.72h6.4" stroke="#46b899" stroke-width="1.1" fill="none"/>
<polyline points="367.90,454.79 387.62,450.50 407.34,449.53 427.06,443.29 446.78,428.08 466.50,424.96 486.22,414.04 505.94,399.80" fill="none" stroke="#46b899" stroke-width="1.4"/>
<circle cx="367.90" cy="454.79" r="3.5" fill="#46b899"/>
<circle cx="387.62" cy="450.50" r="3.5" fill="#46b899"/>
<circle cx="407.34" cy="449.53" r="3.5" fill="#46b899"/>
<circle cx="427.06" cy="443.29" r="3.5" fill="#46b899"/>
<circle cx="446.78" cy="428.08" r="3.5" fill="#46b899"/>
<circle cx="466.50" cy="424.96" r="3.5" fill="#46b899"/>
<circle cx="486.22" cy="414.04" r="3.5" fill="#46b899"/>
<circle cx="505.94" cy="399.80" r="3.5" fill="#46b899"/>
<path d="M367.90,450.50V458.30M364.70,450.50h6.4M364.70,458.30h6.4" stroke="#f7c873" stroke-width="1.1" fill="none"/>
<path d="M387.62,444.65V454.40M384.42,444.65h6.4M384.42,454.40h6.4" stroke="#f7c873" stroke-width="1.1" fill="none"/>
<path d="M407.34,442.70V454.40M404.14,442.70h6.4M404.14,454.40h6.4" stroke="#f7c873" stroke-width="1.1" fill="none"/>
<path d="M427.06,430.42V446.02M423.86,430.42h6.4M423.86,446.02h6.4" stroke="#f7c873" stroke-width="1.1" fill="none"/>
<path d="M446.78,418.52V438.02M443.58,418.52h6.4M443.58,438.02h6.4" stroke="#f7c873" stroke-width="1.1" fill="none"/>
<path d="M466.50,403.90V427.30M463.30,403.90h6.4M463.30,427.30h6.4" stroke="#f7c873" stroke-width="1.1" fill="none"/>
<path d="M486.22,398.05V415.60M483.02,398.05h6.4M483.02,415.60h6.4" stroke="#f7c873" stroke-width="1.1" fill="none"/>
<path d="M505.94,390.83V406.43M502.74,390.83h6.4M502.74,406.43h6.4" stroke="#f7c873" stroke-width="1.1" fill="none"/>
<polyline points="367.90,454.40 387.62,449.53 407.34,448.55 427.06,438.22 446.78,428.27 466.50,415.60 486.22,406.82 505.94,398.63" fill="none" stroke="#f7c873" stroke-width="1.4"/>
<circle cx="367.90" cy="454.40" r="3.5" fill="#f7c873"/>
<circle cx="387.62" cy="449.53" r="3.5" fill="#f7c873"/>
<circle cx="407.34" cy="448.55" r="3.5" fill="#f7c873"/>
<circle cx="427.06" cy="438.22" r="3.5" fill="#f7c873"/>
<circle cx="446.78" cy="428.27" r="3.5" fill="#f7c873"/>
<circle cx="466.50" cy="415.60" r="3.5" fill="#f7c873"/>
<circle cx="486.22" cy="406.82" r="3.5" fill="#f7c873"/>
<circle cx="505.94" cy="398.63" r="3.5" fill="#f7c873"/>
<path d="M367.90,449.14V458.89M364.70,449.14h6.4M364.70,458.89h6.4" stroke="#ef7463" stroke-width="1.1" fill="none"/>
<path d="M387.62,441.73V453.43M384.42,441.73h6.4M384.42,453.43h6.4" stroke="#ef7463" stroke-width="1.1" fill="none"/>
<path d="M407.34,435.49V451.09M404.14,435.49h6.4M404.14,451.09h6.4" stroke="#ef7463" stroke-width="1.1" fill="none"/>
<path d="M427.06,422.42V441.92M423.86,422.42h6.4M423.86,441.92h6.4" stroke="#ef7463" stroke-width="1.1" fill="none"/>
<path d="M446.78,403.31V424.76M443.58,403.31h6.4M443.58,424.76h6.4" stroke="#ef7463" stroke-width="1.1" fill="none"/>
<path d="M466.50,387.32V426.32M463.30,387.32h6.4M463.30,426.32h6.4" stroke="#ef7463" stroke-width="1.1" fill="none"/>
<path d="M486.22,384.98V403.70M483.02,384.98h6.4M483.02,403.70h6.4" stroke="#ef7463" stroke-width="1.1" fill="none"/>
<path d="M505.94,379.33V383.23M502.74,379.33h6.4M502.74,383.23h6.4" stroke="#ef7463" stroke-width="1.1" fill="none"/>
<polyline points="367.90,454.01 387.62,447.58 407.34,443.29 427.06,432.17 446.78,414.04 466.50,406.82 486.22,394.34 505.94,381.28" fill="none" stroke="#ef7463" stroke-width="1.4"/>
<circle cx="367.90" cy="454.01" r="3.5" fill="#ef7463"/>
<circle cx="387.62" cy="447.58" r="3.5" fill="#ef7463"/>
<circle cx="407.34" cy="443.29" r="3.5" fill="#ef7463"/>
<circle cx="427.06" cy="432.17" r="3.5" fill="#ef7463"/>
<circle cx="446.78" cy="414.04" r="3.5" fill="#ef7463"/>
<circle cx="466.50" cy="406.82" r="3.5" fill="#ef7463"/>
<circle cx="486.22" cy="394.34" r="3.5" fill="#ef7463"/>
<circle cx="505.94" cy="381.28" r="3.5" fill="#ef7463"/>
<path d="M367.90,446.60V455.18M364.70,446.60h6.4M364.70,455.18h6.4" stroke="#4b2b2e" stroke-width="1.1" fill="none"/>
<path d="M387.62,436.46V448.16M384.42,436.46h6.4M384.42,448.16h6.4" stroke="#4b2b2e" stroke-width="1.1" fill="none"/>
<path d="M407.34,427.49V441.14M404.14,427.49h6.4M404.14,441.14h6.4" stroke="#4b2b2e" stroke-width="1.1" fill="none"/>
<path d="M427.06,414.23V429.83M423.86,414.23h6.4M423.86,429.83h6.4" stroke="#4b2b2e" stroke-width="1.1" fill="none"/>
<path d="M446.78,392.98V410.53M443.58,392.98h6.4M443.58,410.53h6.4" stroke="#4b2b2e" stroke-width="1.1" fill="none"/>
<path d="M466.50,375.62V392.78M463.30,375.62h6.4M463.30,392.78h6.4" stroke="#4b2b2e" stroke-width="1.1" fill="none"/>
<path d="M486.22,358.07V370.94M483.02,358.07h6.4M483.02,370.94h6.4" stroke="#4b2b2e" stroke-width="1.1" fill="none"/>
<path d="M505.94,345.20V354.95M502.74,345.20h6.4M502.74,354.95h6.4" stroke="#4b2b2e" stroke-width="1.1" fill="none"/>
<polyline points="367.90,450.89 387.62,442.31 407.34,434.31 427.06,422.03 446.78,401.75 466.50,384.20 486.22,364.50 505.94,350.08" fill="none" stroke="#4b2b2e" stroke-width="1.4"/>
<circle cx="367.90" cy="450.89" r="3.5" fill="#4b2b2e"/>
<circle cx="387.62" cy="442.31" r="3.5" fill="#4b2b2e"/>
<circle cx="407.34" cy="434.31" r="3.5" fill="#4b2b2e"/>
<circle cx="427.06" cy="422.03" r="3.5" fill="#4b2b2e"/>
<circle cx="446.78" cy="401.75" r="3.5" fill="#4b2b2e"/>
<circle cx="466.50" cy="384.20" r="3.5" fill="#4b2b2e"/>
<circle cx="486.22" cy="364.50" r="3.5" fill="#4b2b2e"/>
<circle cx="505.94" cy="350.08" r="3.5" fill="#4b2b2e"/>
<path d="M367.90,447.97V459.67M364.70,447.97h6.4M364.70,459.67h6.4" stroke="#d2596b" stroke-width="1.1" fill="none"/>
<path d="M387.62,434.90V459.08M384.42,434.90h6.4M384.42,459.08h6.4" stroke="#d2596b" stroke-width="1.1" fill="none"/>
<path d="M407.34,413.65V446.80M404.14,413.65h6.4M404.14,446.80h6.4" stroke="#d2596b" stroke-width="1.1" fill="none"/>
<path d="M427.06,397.85V429.05M423.86,397.85h6.4M423.86,429.05h6.4" stroke="#d2596b" stroke-width="1.1" fill="none"/>
<path d="M446.78,376.79V409.16M443.58,376.79h6.4M443.58,409.16h6.4" stroke="#d2596b" stroke-width="1.1" fill="none"/>
<path d="M466.50,363.73V387.12M463.30,363.73h6.4M463.30,387.12h6.4" stroke="#d2596b" stroke-width="1.1" fill="none"/>
<path d="M486.22,347.93V369.77M483.02,347.93h6.4M483.02,369.77h6.4" stroke="#d2596b" stroke-width="1.1" fill="none"/>
<path d="M505.94,336.04V352.42M502.74,336.04h6.4M502.74,352.42h6.4" stroke="#d2596b" stroke-width="1.1" fill="none"/>
<polyline points="367.90,453.81 387.62,446.99 407.34,430.22 427.06,413.45 446.78,392.98 466.50,375.43 486.22,358.85 505.94,344.23" fill="none" stroke="#d2596b" stroke-width="1.4"/>
<circle cx="367.90" cy="453.81" r="3.5" fill="#d2596b"/>
<circle cx="387.62" cy="446.99" r="3.5" fill="#d2596b"/>
<circle cx="407.34" cy="430.22" r="3.5" fill="#d2596b"/>
<circle cx="427.06" cy="413.45" r="3.5" fill="#d2596b"/>
<circle cx="446.78" cy="392.98" r="3.5" fill="#d2596b"/>
<circle cx="466.50" cy="375.43" r="3.5" fill="#d2596b"/>
<circle cx="486.22" cy="358.85" r="3.5" fill="#d2596b"/>
<circle cx="505.94" cy="344.23" r="3.5" fill="#d2596b"/>
<path d="M348.4,290.0V465.4H526" fill="none" stroke="#111" stroke-width="1.5"/>
<line x1="343.0" y1="446.60" x2="348.4" y2="446.60" stroke="#111" stroke-width="1.5"/>
<text x="341.60" y="450.44" font-size="11.7" font-weight="bold" text-anchor="end" fill="#111"  stroke="#111" stroke-width="0.25">6</text>
<line x1="343.0" y1="407.60" x2="348.4" y2="407.60" stroke="#111" stroke-width="1.5"/>
<text x="341.60" y="411.44" font-size="11.7" font-weight="bold" text-anchor="end" fill="#111"  stroke="#111" stroke-width="0.25">8</text>
<line x1="343.0" y1="368.60" x2="348.4" y2="368.60" stroke="#111" stroke-width="1.5"/>
<text x="341.60" y="372.44" font-size="11.7" font-weight="bold" text-anchor="end" fill="#111"  stroke="#111" stroke-width="0.25">10</text>
<line x1="343.0" y1="329.60" x2="348.4" y2="329.60" stroke="#111" stroke-width="1.5"/>
<text x="341.60" y="333.44" font-size="11.7" font-weight="bold" text-anchor="end" fill="#111"  stroke="#111" stroke-width="0.25">12</text>
<line x1="343.0" y1="290.60" x2="348.4" y2="290.60" stroke="#111" stroke-width="1.5"/>
<text x="341.60" y="294.44" font-size="11.7" font-weight="bold" text-anchor="end" fill="#111"  stroke="#111" stroke-width="0.25">14</text>
<line x1="367.90" y1="465.4" x2="367.90" y2="470.59999999999997" stroke="#111" stroke-width="1.5"/>
<text x="367.90" y="482.55" font-size="11.6" font-weight="bold" text-anchor="middle" fill="#111"  stroke="#111" stroke-width="0.25">10</text>
<line x1="387.62" y1="465.4" x2="387.62" y2="470.59999999999997" stroke="#111" stroke-width="1.5"/>
<text x="387.62" y="482.55" font-size="11.6" font-weight="bold" text-anchor="middle" fill="#111"  stroke="#111" stroke-width="0.25">12</text>
<line x1="407.34" y1="465.4" x2="407.34" y2="470.59999999999997" stroke="#111" stroke-width="1.5"/>
<text x="407.34" y="482.55" font-size="11.6" font-weight="bold" text-anchor="middle" fill="#111"  stroke="#111" stroke-width="0.25">14</text>
<line x1="427.06" y1="465.4" x2="427.06" y2="470.59999999999997" stroke="#111" stroke-width="1.5"/>
<text x="427.06" y="482.55" font-size="11.6" font-weight="bold" text-anchor="middle" fill="#111"  stroke="#111" stroke-width="0.25">16</text>
<line x1="446.78" y1="465.4" x2="446.78" y2="470.59999999999997" stroke="#111" stroke-width="1.5"/>
<text x="446.78" y="482.55" font-size="11.6" font-weight="bold" text-anchor="middle" fill="#111"  stroke="#111" stroke-width="0.25">18</text>
<line x1="466.50" y1="465.4" x2="466.50" y2="470.59999999999997" stroke="#111" stroke-width="1.5"/>
<text x="466.50" y="482.55" font-size="11.6" font-weight="bold" text-anchor="middle" fill="#111"  stroke="#111" stroke-width="0.25">20</text>
<line x1="486.22" y1="465.4" x2="486.22" y2="470.59999999999997" stroke="#111" stroke-width="1.5"/>
<text x="486.22" y="482.55" font-size="11.6" font-weight="bold" text-anchor="middle" fill="#111"  stroke="#111" stroke-width="0.25">22</text>
<line x1="505.94" y1="465.4" x2="505.94" y2="470.59999999999997" stroke="#111" stroke-width="1.5"/>
<text x="505.94" y="482.55" font-size="11.6" font-weight="bold" text-anchor="middle" fill="#111"  stroke="#111" stroke-width="0.25">24</text>
<text x="440.20" y="500.45" font-size="10.2" font-weight="bold" text-anchor="middle" fill="#111"  stroke="#111" stroke-width="0.25">Days Post implantation</text>
<text transform="translate(320.3,377) rotate(-90)" font-size="12" font-weight="bold" text-anchor="middle" fill="#111" stroke="#111" stroke-width="0.25">Short Diameter (mm)</text>
<path d="M529.3,343.5H535.8V436.3H529.3" fill="none" stroke="#4a4a4a" stroke-width="1"/>
<text x="541.50" y="392.24" font-size="11" font-weight="bold" text-anchor="middle" fill="#111"  stroke="#111" stroke-width="0.15">**</text>
<path d="M514.7,404.6H520.1V436.3H514.7" fill="none" stroke="#4a4a4a" stroke-width="1"/>
<text x="527.10" y="426.04" font-size="11" font-weight="bold" text-anchor="middle" fill="#111"  stroke="#111" stroke-width="0.15">**</text>
<text x="6.70" y="515.56" font-size="13.3" font-weight="bold" text-anchor="start" fill="#111"  stroke="#111" stroke-width="0.25">D</text>
<defs><linearGradient id="blu" x1="0" y1="0" x2="1" y2="1"><stop offset="0" stop-color="#0b98ea"/><stop offset="0.5" stop-color="#0e92e4"/><stop offset="1" stop-color="#0f8adc"/></linearGradient><radialGradient id="tg" cx="0.42" cy="0.38" r="0.7"><stop offset="0" stop-color="#f2cbc6"/><stop offset="0.5" stop-color="#e59c9b"/><stop offset="1" stop-color="#c6626a"/></radialGradient><radialGradient id="tg2" cx="0.42" cy="0.38" r="0.7"><stop offset="0" stop-color="#f0b0a6"/><stop offset="0.55" stop-color="#e08580"/><stop offset="1" stop-color="#c0505a"/></radialGradient></defs>
<rect x="85.1" y="535" width="177.6" height="193.6" fill="url(#blu)"/>
<text x="83.80" y="556.78" font-size="9.45" font-weight="bold" text-anchor="end" fill="#111"  stroke="#111" stroke-width="0.25">Control</text>
<text x="83.80" y="583.58" font-size="9.45" font-weight="bold" text-anchor="end" fill="#111"  stroke="#111" stroke-width="0.25">ZB@CCM</text>
<text x="83.80" y="611.48" font-size="9.45" font-weight="bold" text-anchor="end" fill="#111"  stroke="#111" stroke-width="0.25">IN10018</text>
<text x="83.80" y="638.78" font-size="9.45" font-weight="bold" text-anchor="end" fill="#111"  stroke="#111" stroke-width="0.25">IZB@CCM</text>
<text x="83.80" y="665.58" font-size="9.45" font-weight="bold" text-anchor="end" fill="#111"  stroke="#111" stroke-width="0.25">IN10018+RT</text>
<text x="83.80" y="691.48" font-size="9.45" font-weight="bold" text-anchor="end" fill="#111"  stroke="#111" stroke-width="0.25">ZB@CCM+RT</text>
<text x="83.80" y="717.18" font-size="9.45" font-weight="bold" text-anchor="end" fill="#111"  stroke="#111" stroke-width="0.25">IZB@CCM+RT</text>
<g>
<path d="M109.15,547.78C109.57,549.43 109.24,551.42 108.74,552.94C108.24,554.46 107.30,555.91 106.15,556.90C105.00,557.90 103.34,558.82 101.83,558.90C100.33,558.98 98.51,558.28 97.10,557.39C95.69,556.49 94.02,555.08 93.38,553.52C92.74,551.96 92.62,549.42 93.27,548.01C93.91,546.60 95.95,545.96 97.24,545.08C98.53,544.20 99.49,543.08 100.99,542.74C102.48,542.39 104.84,542.17 106.20,543.01C107.56,543.85 108.73,546.12 109.15,547.78Z" fill="#0b5a96" opacity="0.5" transform="translate(0.9,1.1)" filter="url(#b06)"/>
<path d="M146.40,553.78C146.43,555.27 145.36,557.58 144.13,558.45C142.90,559.33 140.59,559.05 139.01,559.04C137.44,559.02 136.04,558.94 134.70,558.36C133.36,557.79 131.76,556.82 131.00,555.58C130.24,554.34 129.97,552.44 130.16,550.92C130.36,549.40 131.09,547.56 132.19,546.47C133.30,545.38 135.28,544.42 136.81,544.36C138.33,544.31 140.17,545.29 141.35,546.15C142.53,547.01 143.07,548.26 143.91,549.53C144.75,550.80 146.36,552.29 146.40,553.78Z" fill="#0b5a96" opacity="0.5" transform="translate(0.9,1.1)" filter="url(#b06)"/>
<path d="M184.31,551.80C184.25,553.12 183.61,554.44 182.69,555.64C181.77,556.85 180.47,558.48 178.80,559.02C177.13,559.56 174.29,559.47 172.66,558.87C171.03,558.28 169.89,556.65 169.03,555.47C168.17,554.29 167.77,553.17 167.50,551.80C167.23,550.43 166.55,548.43 167.40,547.24C168.26,546.05 170.79,544.94 172.62,544.64C174.46,544.33 176.70,544.90 178.44,545.42C180.18,545.93 182.11,546.67 183.09,547.74C184.07,548.80 184.38,550.48 184.31,551.80Z" fill="#0b5a96" opacity="0.5" transform="translate(0.9,1.1)" filter="url(#b06)"/>
<path d="M215.59,556.25C215.51,557.88 214.70,560.27 213.64,561.38C212.57,562.49 210.59,562.81 209.21,562.88C207.82,562.95 206.46,562.50 205.31,561.81C204.15,561.13 202.86,560.10 202.27,558.77C201.67,557.43 201.49,555.44 201.72,553.80C201.95,552.17 202.63,550.21 203.63,548.95C204.63,547.70 206.36,546.42 207.72,546.27C209.08,546.11 210.71,547.12 211.78,548.01C212.84,548.90 213.46,550.24 214.10,551.62C214.73,552.99 215.66,554.62 215.59,556.25Z" fill="#0b5a96" opacity="0.5" transform="translate(0.9,1.1)" filter="url(#b06)"/>
<path d="M250.71,552.19C251.11,553.51 250.25,555.44 249.68,556.79C249.10,558.15 248.32,559.42 247.23,560.30C246.15,561.18 244.54,562.02 243.17,562.08C241.81,562.13 240.32,561.37 239.05,560.65C237.78,559.92 236.13,558.98 235.56,557.71C234.98,556.44 235.03,554.30 235.61,553.01C236.18,551.72 237.78,550.67 238.98,549.97C240.19,549.27 241.47,548.99 242.85,548.81C244.23,548.63 245.97,548.31 247.28,548.88C248.59,549.44 250.31,550.87 250.71,552.19Z" fill="#0b5a96" opacity="0.5" transform="translate(0.9,1.1)" filter="url(#b06)"/>
<path d="M108.02,583.03C107.40,584.41 106.82,585.94 105.49,586.71C104.17,587.49 101.92,587.87 100.09,587.68C98.26,587.49 96.26,586.59 94.51,585.58C92.77,584.57 90.36,583.15 89.61,581.63C88.87,580.12 89.24,577.77 90.06,576.49C90.87,575.21 92.95,574.57 94.50,573.97C96.05,573.37 97.49,572.94 99.34,572.88C101.19,572.83 103.97,572.70 105.62,573.63C107.27,574.56 108.85,576.89 109.25,578.45C109.65,580.02 108.65,581.65 108.02,583.03Z" fill="#0b5a96" opacity="0.5" transform="translate(0.9,1.1)" filter="url(#b06)"/>
<path d="M147.82,583.50C147.79,584.68 146.85,585.89 145.94,586.99C145.02,588.10 143.88,589.66 142.33,590.13C140.77,590.59 138.13,590.36 136.62,589.80C135.10,589.25 134.05,587.84 133.23,586.79C132.42,585.74 131.98,584.74 131.71,583.50C131.44,582.26 130.82,580.44 131.62,579.35C132.42,578.25 134.79,577.19 136.50,576.94C138.21,576.69 140.31,577.33 141.91,577.83C143.50,578.33 145.10,578.98 146.08,579.93C147.07,580.88 147.84,582.32 147.82,583.50Z" fill="#0b5a96" opacity="0.5" transform="translate(0.9,1.1)" filter="url(#b06)"/>
<path d="M184.68,584.71C184.43,585.87 183.68,587.16 182.40,587.88C181.13,588.60 179.03,588.91 177.04,589.04C175.04,589.17 172.36,589.32 170.46,588.68C168.55,588.05 166.39,586.45 165.61,585.23C164.84,584.02 165.36,582.49 165.79,581.38C166.23,580.26 167.08,579.43 168.22,578.53C169.37,577.64 170.77,576.22 172.65,576.02C174.53,575.83 177.63,576.56 179.50,577.37C181.38,578.18 183.03,579.66 183.89,580.88C184.75,582.11 184.93,583.54 184.68,584.71Z" fill="#0b5a96" opacity="0.5" transform="translate(0.9,1.1)" filter="url(#b06)"/>
<path d="M218.73,581.42C219.41,582.61 219.45,584.78 218.75,586.14C218.05,587.50 216.04,588.74 214.53,589.59C213.03,590.44 211.37,591.04 209.74,591.25C208.11,591.46 206.01,591.49 204.75,590.85C203.50,590.21 202.73,588.71 202.23,587.43C201.73,586.15 201.29,584.54 201.75,583.15C202.22,581.76 203.60,579.95 205.01,579.11C206.43,578.27 208.64,578.15 210.25,578.13C211.86,578.12 213.26,578.49 214.67,579.03C216.09,579.58 218.05,580.24 218.73,581.42Z" fill="#0b5a96" opacity="0.5" transform="translate(0.9,1.1)" filter="url(#b06)"/>
<path d="M250.01,587.77C249.56,589.21 247.79,590.77 246.46,591.46C245.13,592.14 243.45,591.97 242.03,591.89C240.61,591.81 239.04,591.73 237.93,590.96C236.81,590.19 235.71,588.67 235.34,587.27C234.97,585.87 235.21,584.05 235.70,582.56C236.18,581.07 237.03,579.26 238.22,578.35C239.41,577.45 241.48,576.91 242.82,577.15C244.17,577.40 245.23,578.87 246.29,579.82C247.35,580.76 248.56,581.49 249.18,582.82C249.80,584.14 250.46,586.33 250.01,587.77Z" fill="#0b5a96" opacity="0.5" transform="translate(0.9,1.1)" filter="url(#b06)"/>
<path d="M108.12,610.82C108.39,611.91 108.54,613.25 108.02,614.40C107.51,615.56 106.34,617.21 105.03,617.75C103.72,618.29 101.48,618.01 100.17,617.64C98.87,617.27 98.24,616.24 97.19,615.52C96.14,614.81 94.38,614.35 93.88,613.33C93.38,612.30 93.50,610.47 94.21,609.39C94.92,608.31 96.73,607.37 98.14,606.84C99.55,606.31 101.28,606.05 102.66,606.21C104.04,606.37 105.50,607.04 106.41,607.81C107.32,608.57 107.85,609.72 108.12,610.82Z" fill="#0b5a96" opacity="0.5" transform="translate(0.9,1.1)" filter="url(#b06)"/>
<path d="M143.76,612.46C143.16,613.63 142.29,614.74 141.17,615.37C140.05,616.01 138.42,616.38 137.06,616.26C135.70,616.14 134.19,615.46 133.00,614.67C131.81,613.89 130.51,612.78 129.90,611.54C129.28,610.29 128.83,608.35 129.32,607.21C129.81,606.06 131.58,605.07 132.85,604.65C134.12,604.22 135.55,604.59 136.95,604.66C138.35,604.72 139.96,604.41 141.26,605.02C142.56,605.63 144.34,607.08 144.75,608.32C145.17,609.56 144.35,611.28 143.76,612.46Z" fill="#0b5a96" opacity="0.5" transform="translate(0.9,1.1)" filter="url(#b06)"/>
<path d="M181.73,611.00C181.86,612.26 180.94,614.06 180.00,615.05C179.06,616.04 177.42,616.63 176.08,616.93C174.73,617.24 173.20,617.27 171.94,616.90C170.67,616.53 169.30,615.69 168.51,614.71C167.72,613.72 167.28,612.29 167.20,611.00C167.11,609.71 167.24,608.04 167.99,606.95C168.74,605.86 170.40,604.67 171.71,604.46C173.02,604.26 174.59,605.22 175.85,605.73C177.10,606.23 178.26,606.59 179.24,607.46C180.22,608.34 181.60,609.74 181.73,611.00Z" fill="#0b5a96" opacity="0.5" transform="translate(0.9,1.1)" filter="url(#b06)"/>
<path d="M214.07,611.50C214.14,612.77 214.32,614.38 213.73,615.46C213.14,616.54 211.67,617.77 210.52,617.99C209.38,618.20 207.89,617.30 206.86,616.74C205.84,616.19 205.12,615.52 204.35,614.64C203.58,613.77 202.46,612.71 202.25,611.50C202.04,610.29 202.34,608.35 203.08,607.40C203.83,606.45 205.52,606.04 206.72,605.79C207.91,605.53 209.16,605.52 210.26,605.86C211.36,606.20 212.69,606.91 213.33,607.85C213.96,608.79 214.00,610.23 214.07,611.50Z" fill="#0b5a96" opacity="0.5" transform="translate(0.9,1.1)" filter="url(#b06)"/>
<path d="M248.34,612.00C248.31,613.27 248.24,614.79 247.56,615.75C246.88,616.70 245.45,617.31 244.26,617.71C243.06,618.12 241.72,618.40 240.39,618.18C239.07,617.97 237.12,617.45 236.31,616.42C235.50,615.39 235.28,613.29 235.54,612.00C235.80,610.71 237.05,609.68 237.88,608.71C238.70,607.74 239.38,606.79 240.51,606.19C241.64,605.58 243.45,604.75 244.65,605.07C245.85,605.39 247.11,606.98 247.72,608.13C248.34,609.29 248.37,610.73 248.34,612.00Z" fill="#0b5a96" opacity="0.5" transform="translate(0.9,1.1)" filter="url(#b06)"/>
<path d="M105.90,640.39C105.52,641.72 104.66,643.08 103.77,644.06C102.88,645.05 101.70,646.00 100.55,646.30C99.41,646.61 97.75,646.64 96.89,645.91C96.04,645.18 95.55,643.27 95.40,641.91C95.25,640.55 95.68,639.15 96.00,637.74C96.32,636.33 96.51,634.57 97.32,633.43C98.13,632.29 99.72,631.03 100.86,630.90C102.01,630.77 103.34,631.78 104.20,632.64C105.06,633.50 105.74,634.79 106.02,636.08C106.30,637.37 106.27,639.06 105.90,640.39Z" fill="#0b5a96" opacity="0.5" transform="translate(0.9,1.1)" filter="url(#b06)"/>
<path d="M145.12,639.43C144.82,640.40 143.22,641.26 142.08,641.77C140.93,642.29 139.56,642.47 138.23,642.52C136.90,642.57 135.33,642.54 134.12,642.08C132.90,641.63 131.69,640.70 130.95,639.80C130.22,638.91 129.67,637.74 129.69,636.71C129.72,635.68 130.11,634.23 131.10,633.62C132.10,633.01 134.24,632.91 135.65,633.04C137.06,633.16 138.21,633.87 139.57,634.36C140.93,634.85 142.90,635.12 143.83,635.96C144.75,636.81 145.41,638.46 145.12,639.43Z" fill="#0b5a96" opacity="0.5" transform="translate(0.9,1.1)" filter="url(#b06)"/>
<path d="M179.82,640.70C179.92,641.89 179.81,643.40 179.11,644.45C178.40,645.50 176.88,646.78 175.60,647.01C174.33,647.23 172.58,646.38 171.43,645.82C170.28,645.27 169.56,644.52 168.71,643.66C167.86,642.81 166.57,641.84 166.33,640.70C166.09,639.56 166.47,637.78 167.28,636.81C168.09,635.84 169.81,635.19 171.17,634.87C172.52,634.55 174.19,634.51 175.41,634.92C176.64,635.32 177.80,636.35 178.54,637.32C179.27,638.28 179.73,639.51 179.82,640.70Z" fill="#0b5a96" opacity="0.5" transform="translate(0.9,1.1)" filter="url(#b06)"/>
<path d="M213.47,638.30C213.84,639.34 213.70,640.73 213.47,641.80C213.24,642.87 212.80,643.90 212.12,644.71C211.43,645.52 210.40,646.55 209.36,646.64C208.33,646.73 206.71,646.08 205.91,645.23C205.11,644.38 204.82,642.70 204.56,641.54C204.30,640.38 204.25,639.40 204.35,638.28C204.45,637.16 204.50,635.62 205.15,634.82C205.80,634.02 207.23,633.35 208.25,633.47C209.26,633.59 210.39,634.74 211.26,635.55C212.13,636.35 213.11,637.26 213.47,638.30Z" fill="#0b5a96" opacity="0.5" transform="translate(0.9,1.1)" filter="url(#b06)"/>
<path d="M246.64,644.00C246.58,645.18 245.81,646.38 245.13,647.43C244.45,648.48 243.68,649.73 242.57,650.30C241.45,650.88 239.54,651.36 238.45,650.89C237.37,650.41 236.52,648.60 236.04,647.45C235.57,646.30 235.67,645.21 235.59,644.00C235.52,642.79 235.10,641.28 235.60,640.22C236.10,639.15 237.46,637.99 238.61,637.61C239.75,637.24 241.34,637.51 242.48,637.97C243.62,638.42 244.75,639.33 245.44,640.34C246.13,641.34 246.69,642.82 246.64,644.00Z" fill="#0b5a96" opacity="0.5" transform="translate(0.9,1.1)" filter="url(#b06)"/>
<path d="M105.42,665.00C105.53,666.10 104.66,667.72 103.86,668.53C103.05,669.34 101.66,669.62 100.58,669.86C99.50,670.11 98.38,670.27 97.38,669.99C96.38,669.72 95.19,669.05 94.57,668.22C93.95,667.39 93.70,666.11 93.65,665.00C93.61,663.89 93.71,662.52 94.30,661.59C94.89,660.65 96.15,659.59 97.18,659.41C98.21,659.22 99.46,660.05 100.47,660.47C101.48,660.89 102.40,661.17 103.23,661.93C104.05,662.68 105.32,663.90 105.42,665.00Z" fill="#0b5a96" opacity="0.5" transform="translate(0.9,1.1)" filter="url(#b06)"/>
<path d="M141.93,667.05C141.59,668.19 141.18,669.54 140.22,670.37C139.27,671.21 137.50,672.21 136.22,672.07C134.95,671.92 133.43,670.48 132.60,669.51C131.77,668.54 131.63,667.36 131.24,666.25C130.86,665.13 130.13,663.95 130.30,662.81C130.46,661.68 131.21,660.08 132.22,659.42C133.23,658.75 135.07,658.64 136.37,658.83C137.66,659.01 138.99,659.75 139.97,660.53C140.96,661.31 141.95,662.44 142.28,663.53C142.60,664.61 142.27,665.91 141.93,667.05Z" fill="#0b5a96" opacity="0.5" transform="translate(0.9,1.1)" filter="url(#b06)"/>
<path d="M178.36,666.10C177.98,667.41 176.41,668.93 175.33,669.62C174.26,670.31 172.98,670.26 171.91,670.24C170.84,670.22 169.74,670.13 168.93,669.51C168.12,668.88 167.26,667.69 167.05,666.48C166.85,665.26 167.27,663.63 167.71,662.22C168.15,660.81 168.76,658.92 169.70,658.03C170.65,657.14 172.36,656.71 173.39,656.88C174.42,657.05 175.18,658.26 175.89,659.07C176.59,659.88 177.22,660.58 177.63,661.75C178.04,662.92 178.74,664.79 178.36,666.10Z" fill="#0b5a96" opacity="0.5" transform="translate(0.9,1.1)" filter="url(#b06)"/>
<path d="M216.98,667.80C217.04,668.89 216.56,670.57 215.61,671.24C214.67,671.92 212.65,671.88 211.29,671.85C209.93,671.82 208.57,671.59 207.43,671.07C206.30,670.55 205.13,669.69 204.49,668.75C203.85,667.81 203.48,666.51 203.59,665.43C203.70,664.36 204.27,663.10 205.17,662.28C206.06,661.46 207.63,660.58 208.94,660.53C210.25,660.49 211.97,661.34 213.03,662.03C214.08,662.72 214.59,663.74 215.25,664.70C215.91,665.66 216.92,666.70 216.98,667.80Z" fill="#0b5a96" opacity="0.5" transform="translate(0.9,1.1)" filter="url(#b06)"/>
<path d="M246.62,665.60C246.55,666.73 246.14,667.93 245.52,668.81C244.91,669.68 243.92,670.48 242.93,670.85C241.95,671.23 240.70,671.30 239.61,671.05C238.51,670.80 237.02,670.25 236.37,669.35C235.72,668.44 235.52,666.70 235.72,665.60C235.91,664.50 236.91,663.67 237.56,662.76C238.21,661.85 238.65,660.72 239.60,660.14C240.55,659.56 242.20,658.97 243.26,659.29C244.32,659.61 245.41,661.00 245.97,662.05C246.53,663.11 246.70,664.47 246.62,665.60Z" fill="#0b5a96" opacity="0.5" transform="translate(0.9,1.1)" filter="url(#b06)"/>
<path d="M105.77,689.00C105.61,690.33 105.21,691.63 104.52,692.64C103.82,693.65 102.72,694.66 101.60,695.07C100.48,695.47 99.02,695.40 97.80,695.07C96.59,694.74 95.15,694.08 94.31,693.07C93.48,692.06 92.66,690.25 92.80,689.00C92.93,687.75 94.27,686.47 95.12,685.54C95.98,684.61 96.84,683.96 97.95,683.41C99.07,682.85 100.57,682.01 101.82,682.22C103.07,682.42 104.81,683.51 105.47,684.64C106.12,685.77 105.92,687.67 105.77,689.00Z" fill="#0b5a96" opacity="0.5" transform="translate(0.9,1.1)" filter="url(#b06)"/>
<path d="M142.39,689.17C142.67,690.40 142.97,691.85 142.71,693.13C142.45,694.40 141.77,696.29 140.85,696.84C139.92,697.38 138.18,696.92 137.17,696.39C136.17,695.86 135.59,694.58 134.83,693.67C134.08,692.75 133.05,692.06 132.64,690.89C132.22,689.72 131.93,687.75 132.34,686.65C132.75,685.56 134.12,684.80 135.10,684.34C136.07,683.88 137.21,683.67 138.20,683.91C139.19,684.14 140.32,684.88 141.02,685.76C141.71,686.64 142.11,687.94 142.39,689.17Z" fill="#0b5a96" opacity="0.5" transform="translate(0.9,1.1)" filter="url(#b06)"/>
<path d="M178.58,693.00C178.58,694.07 178.12,695.39 177.42,696.21C176.71,697.03 175.49,697.48 174.34,697.92C173.19,698.36 171.69,699.11 170.52,698.87C169.35,698.64 167.80,697.50 167.31,696.52C166.82,695.54 167.44,694.09 167.56,693.00C167.69,691.91 167.56,690.97 168.05,689.97C168.53,688.97 169.39,687.42 170.48,687.01C171.56,686.60 173.39,687.04 174.55,687.50C175.71,687.97 176.75,688.87 177.42,689.79C178.10,690.70 178.58,691.93 178.58,693.00Z" fill="#0b5a96" opacity="0.5" transform="translate(0.9,1.1)" filter="url(#b06)"/>
<path d="M214.73,695.86C214.30,696.82 213.59,697.70 212.59,698.26C211.59,698.82 210.07,699.30 208.74,699.22C207.41,699.14 205.87,698.41 204.61,697.77C203.35,697.13 201.95,696.34 201.18,695.36C200.40,694.38 199.64,692.82 199.97,691.90C200.30,690.99 201.99,690.24 203.16,689.88C204.34,689.52 205.69,689.75 207.03,689.75C208.38,689.76 209.89,689.47 211.25,689.92C212.61,690.37 214.62,691.49 215.20,692.48C215.78,693.47 215.17,694.89 214.73,695.86Z" fill="#0b5a96" opacity="0.5" transform="translate(0.9,1.1)" filter="url(#b06)"/>
<path d="M247.78,691.63C247.95,692.54 247.71,693.98 246.79,694.58C245.88,695.18 243.71,695.23 242.30,695.24C240.89,695.26 239.59,695.00 238.33,694.65C237.07,694.30 235.52,693.85 234.74,693.14C233.96,692.43 233.56,691.27 233.64,690.39C233.73,689.52 234.41,688.63 235.23,687.89C236.05,687.15 237.27,686.10 238.58,685.95C239.89,685.79 241.90,686.44 243.10,686.96C244.31,687.49 245.03,688.32 245.81,689.10C246.59,689.88 247.62,690.72 247.78,691.63Z" fill="#0b5a96" opacity="0.5" transform="translate(0.9,1.1)" filter="url(#b06)"/>
<path d="M104.50,711.50C104.62,712.35 103.95,713.62 103.28,714.30C102.61,714.98 101.42,715.37 100.47,715.57C99.52,715.76 98.46,715.72 97.57,715.47C96.67,715.22 95.67,714.72 95.08,714.06C94.50,713.40 94.16,712.42 94.07,711.50C93.98,710.58 93.98,709.35 94.52,708.57C95.06,707.79 96.34,706.95 97.31,706.83C98.28,706.70 99.46,707.42 100.33,707.81C101.20,708.21 101.84,708.58 102.53,709.19C103.22,709.81 104.37,710.65 104.50,711.50Z" fill="#0b5a96" opacity="0.5" transform="translate(0.9,1.1)" filter="url(#b06)"/>
<path d="M141.65,712.56C141.97,713.40 142.28,714.37 142.13,715.27C141.98,716.16 141.48,717.41 140.77,717.93C140.06,718.45 138.72,718.49 137.85,718.37C136.98,718.24 136.26,717.67 135.54,717.20C134.83,716.72 133.99,716.26 133.57,715.50C133.15,714.75 132.83,713.54 133.03,712.66C133.23,711.78 134.02,710.76 134.77,710.25C135.52,709.74 136.64,709.58 137.55,709.58C138.46,709.58 139.55,709.75 140.23,710.25C140.92,710.75 141.34,711.72 141.65,712.56Z" fill="#0b5a96" opacity="0.5" transform="translate(0.9,1.1)" filter="url(#b06)"/>
<path d="M175.81,714.36C176.07,715.34 175.87,716.91 175.57,717.78C175.27,718.66 174.58,719.27 174.00,719.59C173.42,719.92 172.72,719.94 172.09,719.75C171.45,719.56 170.69,719.14 170.18,718.45C169.66,717.75 169.25,716.61 169.02,715.56C168.78,714.51 168.57,713.10 168.77,712.17C168.97,711.23 169.64,710.24 170.23,709.97C170.82,709.70 171.68,710.25 172.31,710.57C172.94,710.90 173.43,711.28 174.01,711.91C174.60,712.54 175.55,713.38 175.81,714.36Z" fill="#0b5a96" opacity="0.5" transform="translate(0.9,1.1)" filter="url(#b06)"/>
<path d="M212.95,716.75C212.74,717.50 211.57,718.17 210.73,718.60C209.89,719.03 208.91,719.26 207.91,719.33C206.91,719.40 205.67,719.39 204.75,719.03C203.83,718.68 202.94,717.91 202.38,717.19C201.83,716.47 201.37,715.54 201.39,714.71C201.42,713.89 201.76,712.68 202.54,712.24C203.32,711.79 205.00,711.93 206.08,712.01C207.15,712.10 208.02,712.39 209.00,712.74C209.99,713.09 211.32,713.43 211.98,714.10C212.63,714.77 213.15,716.00 212.95,716.75Z" fill="#0b5a96" opacity="0.5" transform="translate(0.9,1.1)" filter="url(#b06)"/>
<path d="M244.11,714.03C244.27,715.10 244.12,716.13 243.89,717.00C243.66,717.86 243.29,718.72 242.76,719.23C242.22,719.75 241.41,720.16 240.67,720.09C239.94,720.02 239.04,719.47 238.35,718.80C237.67,718.12 236.84,717.06 236.56,716.05C236.29,715.05 236.41,713.61 236.71,712.77C237.01,711.93 237.77,711.45 238.38,711.02C238.98,710.60 239.57,710.28 240.34,710.21C241.11,710.15 242.35,709.98 242.98,710.61C243.61,711.25 243.96,712.97 244.11,714.03Z" fill="#0b5a96" opacity="0.5" transform="translate(0.9,1.1)" filter="url(#b06)"/>
<path d="M109.15,547.78C109.57,549.43 109.24,551.42 108.74,552.94C108.24,554.46 107.30,555.91 106.15,556.90C105.00,557.90 103.34,558.82 101.83,558.90C100.33,558.98 98.51,558.28 97.10,557.39C95.69,556.49 94.02,555.08 93.38,553.52C92.74,551.96 92.62,549.42 93.27,548.01C93.91,546.60 95.95,545.96 97.24,545.08C98.53,544.20 99.49,543.08 100.99,542.74C102.48,542.39 104.84,542.17 106.20,543.01C107.56,543.85 108.73,546.12 109.15,547.78Z" fill="url(#tg)"/>
<path d="M146.40,553.78C146.43,555.27 145.36,557.58 144.13,558.45C142.90,559.33 140.59,559.05 139.01,559.04C137.44,559.02 136.04,558.94 134.70,558.36C133.36,557.79 131.76,556.82 131.00,555.58C130.24,554.34 129.97,552.44 130.16,550.92C130.36,549.40 131.09,547.56 132.19,546.47C133.30,545.38 135.28,544.42 136.81,544.36C138.33,544.31 140.17,545.29 141.35,546.15C142.53,547.01 143.07,548.26 143.91,549.53C144.75,550.80 146.36,552.29 146.40,553.78Z" fill="url(#tg)"/>
<path d="M184.31,551.80C184.25,553.12 183.61,554.44 182.69,555.64C181.77,556.85 180.47,558.48 178.80,559.02C177.13,559.56 174.29,559.47 172.66,558.87C171.03,558.28 169.89,556.65 169.03,555.47C168.17,554.29 167.77,553.17 167.50,551.80C167.23,550.43 166.55,548.43 167.40,547.24C168.26,546.05 170.79,544.94 172.62,544.64C174.46,544.33 176.70,544.90 178.44,545.42C180.18,545.93 182.11,546.67 183.09,547.74C184.07,548.80 184.38,550.48 184.31,551.80Z" fill="url(#tg)"/>
<path d="M215.59,556.25C215.51,557.88 214.70,560.27 213.64,561.38C212.57,562.49 210.59,562.81 209.21,562.88C207.82,562.95 206.46,562.50 205.31,561.81C204.15,561.13 202.86,560.10 202.27,558.77C201.67,557.43 201.49,555.44 201.72,553.80C201.95,552.17 202.63,550.21 203.63,548.95C204.63,547.70 206.36,546.42 207.72,546.27C209.08,546.11 210.71,547.12 211.78,548.01C212.84,548.90 213.46,550.24 214.10,551.62C214.73,552.99 215.66,554.62 215.59,556.25Z" fill="url(#tg)"/>
<path d="M250.71,552.19C251.11,553.51 250.25,555.44 249.68,556.79C249.10,558.15 248.32,559.42 247.23,560.30C246.15,561.18 244.54,562.02 243.17,562.08C241.81,562.13 240.32,561.37 239.05,560.65C237.78,559.92 236.13,558.98 235.56,557.71C234.98,556.44 235.03,554.30 235.61,553.01C236.18,551.72 237.78,550.67 238.98,549.97C240.19,549.27 241.47,548.99 242.85,548.81C244.23,548.63 245.97,548.31 247.28,548.88C248.59,549.44 250.31,550.87 250.71,552.19Z" fill="url(#tg)"/>
<path d="M108.02,583.03C107.40,584.41 106.82,585.94 105.49,586.71C104.17,587.49 101.92,587.87 100.09,587.68C98.26,587.49 96.26,586.59 94.51,585.58C92.77,584.57 90.36,583.15 89.61,581.63C88.87,580.12 89.24,577.77 90.06,576.49C90.87,575.21 92.95,574.57 94.50,573.97C96.05,573.37 97.49,572.94 99.34,572.88C101.19,572.83 103.97,572.70 105.62,573.63C107.27,574.56 108.85,576.89 109.25,578.45C109.65,580.02 108.65,581.65 108.02,583.03Z" fill="url(#tg)"/>
<path d="M147.82,583.50C147.79,584.68 146.85,585.89 145.94,586.99C145.02,588.10 143.88,589.66 142.33,590.13C140.77,590.59 138.13,590.36 136.62,589.80C135.10,589.25 134.05,587.84 133.23,586.79C132.42,585.74 131.98,584.74 131.71,583.50C131.44,582.26 130.82,580.44 131.62,579.35C132.42,578.25 134.79,577.19 136.50,576.94C138.21,576.69 140.31,577.33 141.91,577.83C143.50,578.33 145.10,578.98 146.08,579.93C147.07,580.88 147.84,582.32 147.82,583.50Z" fill="url(#tg)"/>
<path d="M184.68,584.71C184.43,585.87 183.68,587.16 182.40,587.88C181.13,588.60 179.03,588.91 177.04,589.04C175.04,589.17 172.36,589.32 170.46,588.68C168.55,588.05 166.39,586.45 165.61,585.23C164.84,584.02 165.36,582.49 165.79,581.38C166.23,580.26 167.08,579.43 168.22,578.53C169.37,577.64 170.77,576.22 172.65,576.02C174.53,575.83 177.63,576.56 179.50,577.37C181.38,578.18 183.03,579.66 183.89,580.88C184.75,582.11 184.93,583.54 184.68,584.71Z" fill="url(#tg)"/>
<path d="M218.73,581.42C219.41,582.61 219.45,584.78 218.75,586.14C218.05,587.50 216.04,588.74 214.53,589.59C213.03,590.44 211.37,591.04 209.74,591.25C208.11,591.46 206.01,591.49 204.75,590.85C203.50,590.21 202.73,588.71 202.23,587.43C201.73,586.15 201.29,584.54 201.75,583.15C202.22,581.76 203.60,579.95 205.01,579.11C206.43,578.27 208.64,578.15 210.25,578.13C211.86,578.12 213.26,578.49 214.67,579.03C216.09,579.58 218.05,580.24 218.73,581.42Z" fill="url(#tg)"/>
<path d="M250.01,587.77C249.56,589.21 247.79,590.77 246.46,591.46C245.13,592.14 243.45,591.97 242.03,591.89C240.61,591.81 239.04,591.73 237.93,590.96C236.81,590.19 235.71,588.67 235.34,587.27C234.97,585.87 235.21,584.05 235.70,582.56C236.18,581.07 237.03,579.26 238.22,578.35C239.41,577.45 241.48,576.91 242.82,577.15C244.17,577.40 245.23,578.87 246.29,579.82C247.35,580.76 248.56,581.49 249.18,582.82C249.80,584.14 250.46,586.33 250.01,587.77Z" fill="url(#tg)"/>
<path d="M108.12,610.82C108.39,611.91 108.54,613.25 108.02,614.40C107.51,615.56 106.34,617.21 105.03,617.75C103.72,618.29 101.48,618.01 100.17,617.64C98.87,617.27 98.24,616.24 97.19,615.52C96.14,614.81 94.38,614.35 93.88,613.33C93.38,612.30 93.50,610.47 94.21,609.39C94.92,608.31 96.73,607.37 98.14,606.84C99.55,606.31 101.28,606.05 102.66,606.21C104.04,606.37 105.50,607.04 106.41,607.81C107.32,608.57 107.85,609.72 108.12,610.82Z" fill="url(#tg)"/>
<path d="M143.76,612.46C143.16,613.63 142.29,614.74 141.17,615.37C140.05,616.01 138.42,616.38 137.06,616.26C135.70,616.14 134.19,615.46 133.00,614.67C131.81,613.89 130.51,612.78 129.90,611.54C129.28,610.29 128.83,608.35 129.32,607.21C129.81,606.06 131.58,605.07 132.85,604.65C134.12,604.22 135.55,604.59 136.95,604.66C138.35,604.72 139.96,604.41 141.26,605.02C142.56,605.63 144.34,607.08 144.75,608.32C145.17,609.56 144.35,611.28 143.76,612.46Z" fill="url(#tg)"/>
<path d="M181.73,611.00C181.86,612.26 180.94,614.06 180.00,615.05C179.06,616.04 177.42,616.63 176.08,616.93C174.73,617.24 173.20,617.27 171.94,616.90C170.67,616.53 169.30,615.69 168.51,614.71C167.72,613.72 167.28,612.29 167.20,611.00C167.11,609.71 167.24,608.04 167.99,606.95C168.74,605.86 170.40,604.67 171.71,604.46C173.02,604.26 174.59,605.22 175.85,605.73C177.10,606.23 178.26,606.59 179.24,607.46C180.22,608.34 181.60,609.74 181.73,611.00Z" fill="url(#tg)"/>
<path d="M214.07,611.50C214.14,612.77 214.32,614.38 213.73,615.46C213.14,616.54 211.67,617.77 210.52,617.99C209.38,618.20 207.89,617.30 206.86,616.74C205.84,616.19 205.12,615.52 204.35,614.64C203.58,613.77 202.46,612.71 202.25,611.50C202.04,610.29 202.34,608.35 203.08,607.40C203.83,606.45 205.52,606.04 206.72,605.79C207.91,605.53 209.16,605.52 210.26,605.86C211.36,606.20 212.69,606.91 213.33,607.85C213.96,608.79 214.00,610.23 214.07,611.50Z" fill="url(#tg)"/>
<path d="M248.34,612.00C248.31,613.27 248.24,614.79 247.56,615.75C246.88,616.70 245.45,617.31 244.26,617.71C243.06,618.12 241.72,618.40 240.39,618.18C239.07,617.97 237.12,617.45 236.31,616.42C235.50,615.39 235.28,613.29 235.54,612.00C235.80,610.71 237.05,609.68 237.88,608.71C238.70,607.74 239.38,606.79 240.51,606.19C241.64,605.58 243.45,604.75 244.65,605.07C245.85,605.39 247.11,606.98 247.72,608.13C248.34,609.29 248.37,610.73 248.34,612.00Z" fill="url(#tg)"/>
<path d="M105.90,640.39C105.52,641.72 104.66,643.08 103.77,644.06C102.88,645.05 101.70,646.00 100.55,646.30C99.41,646.61 97.75,646.64 96.89,645.91C96.04,645.18 95.55,643.27 95.40,641.91C95.25,640.55 95.68,639.15 96.00,637.74C96.32,636.33 96.51,634.57 97.32,633.43C98.13,632.29 99.72,631.03 100.86,630.90C102.01,630.77 103.34,631.78 104.20,632.64C105.06,633.50 105.74,634.79 106.02,636.08C106.30,637.37 106.27,639.06 105.90,640.39Z" fill="url(#tg)"/>
<path d="M145.12,639.43C144.82,640.40 143.22,641.26 142.08,641.77C140.93,642.29 139.56,642.47 138.23,642.52C136.90,642.57 135.33,642.54 134.12,642.08C132.90,641.63 131.69,640.70 130.95,639.80C130.22,638.91 129.67,637.74 129.69,636.71C129.72,635.68 130.11,634.23 131.10,633.62C132.10,633.01 134.24,632.91 135.65,633.04C137.06,633.16 138.21,633.87 139.57,634.36C140.93,634.85 142.90,635.12 143.83,635.96C144.75,636.81 145.41,638.46 145.12,639.43Z" fill="url(#tg)"/>
<path d="M179.82,640.70C179.92,641.89 179.81,643.40 179.11,644.45C178.40,645.50 176.88,646.78 175.60,647.01C174.33,647.23 172.58,646.38 171.43,645.82C170.28,645.27 169.56,644.52 168.71,643.66C167.86,642.81 166.57,641.84 166.33,640.70C166.09,639.56 166.47,637.78 167.28,636.81C168.09,635.84 169.81,635.19 171.17,634.87C172.52,634.55 174.19,634.51 175.41,634.92C176.64,635.32 177.80,636.35 178.54,637.32C179.27,638.28 179.73,639.51 179.82,640.70Z" fill="url(#tg)"/>
<path d="M213.47,638.30C213.84,639.34 213.70,640.73 213.47,641.80C213.24,642.87 212.80,643.90 212.12,644.71C211.43,645.52 210.40,646.55 209.36,646.64C208.33,646.73 206.71,646.08 205.91,645.23C205.11,644.38 204.82,642.70 204.56,641.54C204.30,640.38 204.25,639.40 204.35,638.28C204.45,637.16 204.50,635.62 205.15,634.82C205.80,634.02 207.23,633.35 208.25,633.47C209.26,633.59 210.39,634.74 211.26,635.55C212.13,636.35 213.11,637.26 213.47,638.30Z" fill="url(#tg)"/>
<path d="M246.64,644.00C246.58,645.18 245.81,646.38 245.13,647.43C244.45,648.48 243.68,649.73 242.57,650.30C241.45,650.88 239.54,651.36 238.45,650.89C237.37,650.41 236.52,648.60 236.04,647.45C235.57,646.30 235.67,645.21 235.59,644.00C235.52,642.79 235.10,641.28 235.60,640.22C236.10,639.15 237.46,637.99 238.61,637.61C239.75,637.24 241.34,637.51 242.48,637.97C243.62,638.42 244.75,639.33 245.44,640.34C246.13,641.34 246.69,642.82 246.64,644.00Z" fill="url(#tg)"/>
<path d="M105.42,665.00C105.53,666.10 104.66,667.72 103.86,668.53C103.05,669.34 101.66,669.62 100.58,669.86C99.50,670.11 98.38,670.27 97.38,669.99C96.38,669.72 95.19,669.05 94.57,668.22C93.95,667.39 93.70,666.11 93.65,665.00C93.61,663.89 93.71,662.52 94.30,661.59C94.89,660.65 96.15,659.59 97.18,659.41C98.21,659.22 99.46,660.05 100.47,660.47C101.48,660.89 102.40,661.17 103.23,661.93C104.05,662.68 105.32,663.90 105.42,665.00Z" fill="url(#tg)"/>
<path d="M141.93,667.05C141.59,668.19 141.18,669.54 140.22,670.37C139.27,671.21 137.50,672.21 136.22,672.07C134.95,671.92 133.43,670.48 132.60,669.51C131.77,668.54 131.63,667.36 131.24,666.25C130.86,665.13 130.13,663.95 130.30,662.81C130.46,661.68 131.21,660.08 132.22,659.42C133.23,658.75 135.07,658.64 136.37,658.83C137.66,659.01 138.99,659.75 139.97,660.53C140.96,661.31 141.95,662.44 142.28,663.53C142.60,664.61 142.27,665.91 141.93,667.05Z" fill="url(#tg2)"/>
<path d="M178.36,666.10C177.98,667.41 176.41,668.93 175.33,669.62C174.26,670.31 172.98,670.26 171.91,670.24C170.84,670.22 169.74,670.13 168.93,669.51C168.12,668.88 167.26,667.69 167.05,666.48C166.85,665.26 167.27,663.63 167.71,662.22C168.15,660.81 168.76,658.92 169.70,658.03C170.65,657.14 172.36,656.71 173.39,656.88C174.42,657.05 175.18,658.26 175.89,659.07C176.59,659.88 177.22,660.58 177.63,661.75C178.04,662.92 178.74,664.79 178.36,666.10Z" fill="url(#tg)"/>
<path d="M216.98,667.80C217.04,668.89 216.56,670.57 215.61,671.24C214.67,671.92 212.65,671.88 211.29,671.85C209.93,671.82 208.57,671.59 207.43,671.07C206.30,670.55 205.13,669.69 204.49,668.75C203.85,667.81 203.48,666.51 203.59,665.43C203.70,664.36 204.27,663.10 205.17,662.28C206.06,661.46 207.63,660.58 208.94,660.53C210.25,660.49 211.97,661.34 213.03,662.03C214.08,662.72 214.59,663.74 215.25,664.70C215.91,665.66 216.92,666.70 216.98,667.80Z" fill="url(#tg2)"/>
<path d="M246.62,665.60C246.55,666.73 246.14,667.93 245.52,668.81C244.91,669.68 243.92,670.48 242.93,670.85C241.95,671.23 240.70,671.30 239.61,671.05C238.51,670.80 237.02,670.25 236.37,669.35C235.72,668.44 235.52,666.70 235.72,665.60C235.91,664.50 236.91,663.67 237.56,662.76C238.21,661.85 238.65,660.72 239.60,660.14C240.55,659.56 242.20,658.97 243.26,659.29C244.32,659.61 245.41,661.00 245.97,662.05C246.53,663.11 246.70,664.47 246.62,665.60Z" fill="url(#tg)"/>
<path d="M105.77,689.00C105.61,690.33 105.21,691.63 104.52,692.64C103.82,693.65 102.72,694.66 101.60,695.07C100.48,695.47 99.02,695.40 97.80,695.07C96.59,694.74 95.15,694.08 94.31,693.07C93.48,692.06 92.66,690.25 92.80,689.00C92.93,687.75 94.27,686.47 95.12,685.54C95.98,684.61 96.84,683.96 97.95,683.41C99.07,682.85 100.57,682.01 101.82,682.22C103.07,682.42 104.81,683.51 105.47,684.64C106.12,685.77 105.92,687.67 105.77,689.00Z" fill="url(#tg)"/>
<path d="M142.39,689.17C142.67,690.40 142.97,691.85 142.71,693.13C142.45,694.40 141.77,696.29 140.85,696.84C139.92,697.38 138.18,696.92 137.17,696.39C136.17,695.86 135.59,694.58 134.83,693.67C134.08,692.75 133.05,692.06 132.64,690.89C132.22,689.72 131.93,687.75 132.34,686.65C132.75,685.56 134.12,684.80 135.10,684.34C136.07,683.88 137.21,683.67 138.20,683.91C139.19,684.14 140.32,684.88 141.02,685.76C141.71,686.64 142.11,687.94 142.39,689.17Z" fill="url(#tg)"/>
<path d="M178.58,693.00C178.58,694.07 178.12,695.39 177.42,696.21C176.71,697.03 175.49,697.48 174.34,697.92C173.19,698.36 171.69,699.11 170.52,698.87C169.35,698.64 167.80,697.50 167.31,696.52C166.82,695.54 167.44,694.09 167.56,693.00C167.69,691.91 167.56,690.97 168.05,689.97C168.53,688.97 169.39,687.42 170.48,687.01C171.56,686.60 173.39,687.04 174.55,687.50C175.71,687.97 176.75,688.87 177.42,689.79C178.10,690.70 178.58,691.93 178.58,693.00Z" fill="url(#tg)"/>
<path d="M214.73,695.86C214.30,696.82 213.59,697.70 212.59,698.26C211.59,698.82 210.07,699.30 208.74,699.22C207.41,699.14 205.87,698.41 204.61,697.77C203.35,697.13 201.95,696.34 201.18,695.36C200.40,694.38 199.64,692.82 199.97,691.90C200.30,690.99 201.99,690.24 203.16,689.88C204.34,689.52 205.69,689.75 207.03,689.75C208.38,689.76 209.89,689.47 211.25,689.92C212.61,690.37 214.62,691.49 215.20,692.48C215.78,693.47 215.17,694.89 214.73,695.86Z" fill="url(#tg)"/>
<path d="M247.78,691.63C247.95,692.54 247.71,693.98 246.79,694.58C245.88,695.18 243.71,695.23 242.30,695.24C240.89,695.26 239.59,695.00 238.33,694.65C237.07,694.30 235.52,693.85 234.74,693.14C233.96,692.43 233.56,691.27 233.64,690.39C233.73,689.52 234.41,688.63 235.23,687.89C236.05,687.15 237.27,686.10 238.58,685.95C239.89,685.79 241.90,686.44 243.10,686.96C244.31,687.49 245.03,688.32 245.81,689.10C246.59,689.88 247.62,690.72 247.78,691.63Z" fill="url(#tg2)"/>
<path d="M104.50,711.50C104.62,712.35 103.95,713.62 103.28,714.30C102.61,714.98 101.42,715.37 100.47,715.57C99.52,715.76 98.46,715.72 97.57,715.47C96.67,715.22 95.67,714.72 95.08,714.06C94.50,713.40 94.16,712.42 94.07,711.50C93.98,710.58 93.98,709.35 94.52,708.57C95.06,707.79 96.34,706.95 97.31,706.83C98.28,706.70 99.46,707.42 100.33,707.81C101.20,708.21 101.84,708.58 102.53,709.19C103.22,709.81 104.37,710.65 104.50,711.50Z" fill="url(#tg)"/>
<path d="M141.65,712.56C141.97,713.40 142.28,714.37 142.13,715.27C141.98,716.16 141.48,717.41 140.77,717.93C140.06,718.45 138.72,718.49 137.85,718.37C136.98,718.24 136.26,717.67 135.54,717.20C134.83,716.72 133.99,716.26 133.57,715.50C133.15,714.75 132.83,713.54 133.03,712.66C133.23,711.78 134.02,710.76 134.77,710.25C135.52,709.74 136.64,709.58 137.55,709.58C138.46,709.58 139.55,709.75 140.23,710.25C140.92,710.75 141.34,711.72 141.65,712.56Z" fill="url(#tg)"/>
<path d="M175.81,714.36C176.07,715.34 175.87,716.91 175.57,717.78C175.27,718.66 174.58,719.27 174.00,719.59C173.42,719.92 172.72,719.94 172.09,719.75C171.45,719.56 170.69,719.14 170.18,718.45C169.66,717.75 169.25,716.61 169.02,715.56C168.78,714.51 168.57,713.10 168.77,712.17C168.97,711.23 169.64,710.24 170.23,709.97C170.82,709.70 171.68,710.25 172.31,710.57C172.94,710.90 173.43,711.28 174.01,711.91C174.60,712.54 175.55,713.38 175.81,714.36Z" fill="url(#tg2)"/>
<path d="M212.95,716.75C212.74,717.50 211.57,718.17 210.73,718.60C209.89,719.03 208.91,719.26 207.91,719.33C206.91,719.40 205.67,719.39 204.75,719.03C203.83,718.68 202.94,717.91 202.38,717.19C201.83,716.47 201.37,715.54 201.39,714.71C201.42,713.89 201.76,712.68 202.54,712.24C203.32,711.79 205.00,711.93 206.08,712.01C207.15,712.10 208.02,712.39 209.00,712.74C209.99,713.09 211.32,713.43 211.98,714.10C212.63,714.77 213.15,716.00 212.95,716.75Z" fill="url(#tg)"/>
<path d="M244.11,714.03C244.27,715.10 244.12,716.13 243.89,717.00C243.66,717.86 243.29,718.72 242.76,719.23C242.22,719.75 241.41,720.16 240.67,720.09C239.94,720.02 239.04,719.47 238.35,718.80C237.67,718.12 236.84,717.06 236.56,716.05C236.29,715.05 236.41,713.61 236.71,712.77C237.01,711.93 237.77,711.45 238.38,711.02C238.98,710.60 239.57,710.28 240.34,710.21C241.11,710.15 242.35,709.98 242.98,710.61C243.61,711.25 243.96,712.97 244.11,714.03Z" fill="url(#tg2)"/>
</g>
<rect x="246.2" y="715" width="11.5" height="1.9" fill="#0b0b0b"/>
<text x="252.30" y="724.81" font-size="5.9" font-weight="bold" text-anchor="middle" fill="#0b0b0b"  stroke="#0b0b0b" stroke-width="0.25">1 cm</text>
<text x="287.60" y="515.56" font-size="13.3" font-weight="bold" text-anchor="start" fill="#111"  stroke="#111" stroke-width="0.25">E</text>
<rect x="359.15000000000003" y="587.58" width="14.3" height="88.92" fill="#fff" stroke="#d2596b" stroke-width="1.7"/>
<path d="M366.3,573.46V601.69M361.90000000000003,573.46h8.8M361.90000000000003,601.69h8.8" stroke="#d2596b" stroke-width="1.2" fill="none"/>
<circle cx="366.3" cy="567.34" r="1.5" fill="#d2596b"/>
<circle cx="366.3" cy="583.34" r="1.5" fill="#d2596b"/>
<circle cx="372.7" cy="593.69" r="1.5" fill="#d2596b"/>
<circle cx="365.3" cy="595.57" r="1.5" fill="#d2596b"/>
<circle cx="368.3" cy="600.28" r="1.5" fill="#d2596b"/>
<rect x="384.75" y="592.75" width="14.3" height="83.75" fill="#fff" stroke="#4b2b2e" stroke-width="1.7"/>
<path d="M391.9,579.11V606.40M387.5,579.11h8.8M387.5,606.40h8.8" stroke="#4b2b2e" stroke-width="1.2" fill="none"/>
<circle cx="391.9" cy="569.23" r="1.5" fill="#4b2b2e"/>
<circle cx="385.5" cy="595.57" r="1.5" fill="#4b2b2e"/>
<circle cx="398.79999999999995" cy="595.57" r="1.5" fill="#4b2b2e"/>
<circle cx="391.9" cy="605.36" r="1.5" fill="#4b2b2e"/>
<circle cx="392.4" cy="588.99" r="1.5" fill="#4b2b2e"/>
<rect x="410.35" y="629.17" width="14.3" height="47.33" fill="#fff" stroke="#ef7463" stroke-width="1.7"/>
<path d="M417.5,627.29V631.05M413.1,627.29h8.8M413.1,631.05h8.8" stroke="#ef7463" stroke-width="1.2" fill="none"/>
<circle cx="411.5" cy="627.10" r="1.5" fill="#ef7463"/>
<circle cx="414.5" cy="629.45" r="1.5" fill="#ef7463"/>
<circle cx="417.5" cy="628.98" r="1.5" fill="#ef7463"/>
<circle cx="420.5" cy="630.39" r="1.5" fill="#ef7463"/>
<circle cx="423.5" cy="629.45" r="1.5" fill="#ef7463"/>
<rect x="435.55" y="643.94" width="14.3" height="32.56" fill="#fff" stroke="#f7c873" stroke-width="1.7"/>
<path d="M442.7,641.12V646.76M438.3,641.12h8.8M438.3,646.76h8.8" stroke="#f7c873" stroke-width="1.2" fill="none"/>
<circle cx="436.7" cy="640.93" r="1.5" fill="#f7c873"/>
<circle cx="439.7" cy="644.51" r="1.5" fill="#f7c873"/>
<circle cx="442.7" cy="645.45" r="1.5" fill="#f7c873"/>
<circle cx="445.7" cy="644.04" r="1.5" fill="#f7c873"/>
<circle cx="448.7" cy="643.38" r="1.5" fill="#f7c873"/>
<rect x="461.15000000000003" y="643.38" width="14.3" height="33.12" fill="#fff" stroke="#46b899" stroke-width="1.7"/>
<path d="M468.3,640.55V646.20M463.90000000000003,640.55h8.8M463.90000000000003,646.20h8.8" stroke="#46b899" stroke-width="1.2" fill="none"/>
<circle cx="462.3" cy="640.93" r="1.5" fill="#46b899"/>
<circle cx="465.3" cy="644.98" r="1.5" fill="#46b899"/>
<circle cx="468.3" cy="643.09" r="1.5" fill="#46b899"/>
<circle cx="471.3" cy="644.98" r="1.5" fill="#46b899"/>
<circle cx="474.3" cy="642.06" r="1.5" fill="#46b899"/>
<rect x="486.35" y="643.38" width="14.3" height="33.12" fill="#fff" stroke="#4a8db0" stroke-width="1.7"/>
<path d="M493.5,641.02V645.73M489.1,641.02h8.8M489.1,645.73h8.8" stroke="#4a8db0" stroke-width="1.2" fill="none"/>
<circle cx="487.5" cy="640.93" r="1.5" fill="#4a8db0"/>
<circle cx="490.5" cy="644.51" r="1.5" fill="#4a8db0"/>
<circle cx="493.5" cy="643.38" r="1.5" fill="#4a8db0"/>
<circle cx="496.5" cy="644.04" r="1.5" fill="#4a8db0"/>
<circle cx="499.5" cy="643.00" r="1.5" fill="#4a8db0"/>
<rect x="511.85" y="658.62" width="14.3" height="17.88" fill="#fff" stroke="#6b62a6" stroke-width="1.7"/>
<path d="M519.0,656.27V660.97M514.6,656.27h8.8M514.6,660.97h8.8" stroke="#6b62a6" stroke-width="1.2" fill="none"/>
<circle cx="513.0" cy="656.55" r="1.5" fill="#6b62a6"/>
<circle cx="516.0" cy="660.50" r="1.5" fill="#6b62a6"/>
<circle cx="519.0" cy="658.62" r="1.5" fill="#6b62a6"/>
<circle cx="522.0" cy="657.68" r="1.5" fill="#6b62a6"/>
<circle cx="525.0" cy="659.00" r="1.5" fill="#6b62a6"/>
<path d="M349.2,534.75V676.5H536.6" fill="none" stroke="#111" stroke-width="1.5"/>
<line x1="343.8" y1="676.50" x2="349.2" y2="676.50" stroke="#111" stroke-width="1.5"/>
<text x="342.40" y="680.32" font-size="11.5" font-weight="bold" text-anchor="end" fill="#111"  stroke="#111" stroke-width="0.25">0.0</text>
<line x1="343.8" y1="629.45" x2="349.2" y2="629.45" stroke="#111" stroke-width="1.5"/>
<text x="342.40" y="633.27" font-size="11.5" font-weight="bold" text-anchor="end" fill="#111"  stroke="#111" stroke-width="0.25">0.5</text>
<line x1="343.8" y1="582.40" x2="349.2" y2="582.40" stroke="#111" stroke-width="1.5"/>
<text x="342.40" y="586.22" font-size="11.5" font-weight="bold" text-anchor="end" fill="#111"  stroke="#111" stroke-width="0.25">1.0</text>
<line x1="343.8" y1="535.35" x2="349.2" y2="535.35" stroke="#111" stroke-width="1.5"/>
<text x="342.40" y="539.17" font-size="11.5" font-weight="bold" text-anchor="end" fill="#111"  stroke="#111" stroke-width="0.25">1.5</text>
<text transform="translate(321.2,604.5) rotate(-90)" font-size="11.5" font-weight="bold" text-anchor="middle" fill="#111" stroke="#111" stroke-width="0.25">Tumor Weight (g)</text>
<line x1="366.3" y1="676.5" x2="366.3" y2="681.7" stroke="#111" stroke-width="1.5"/>
<text transform="translate(369.1,693.1) rotate(-36)" font-size="11.5" font-weight="bold" text-anchor="end" fill="#111" stroke="#111" stroke-width="0.25">Control</text>
<line x1="391.9" y1="676.5" x2="391.9" y2="681.7" stroke="#111" stroke-width="1.5"/>
<text transform="translate(394.7,693.1) rotate(-36)" font-size="11.5" font-weight="bold" text-anchor="end" fill="#111" stroke="#111" stroke-width="0.25">ZB@CCM</text>
<line x1="417.5" y1="676.5" x2="417.5" y2="681.7" stroke="#111" stroke-width="1.5"/>
<text transform="translate(420.3,693.1) rotate(-36)" font-size="11.5" font-weight="bold" text-anchor="end" fill="#111" stroke="#111" stroke-width="0.25">IN10018</text>
<line x1="442.7" y1="676.5" x2="442.7" y2="681.7" stroke="#111" stroke-width="1.5"/>
<text transform="translate(445.5,693.1) rotate(-36)" font-size="11.5" font-weight="bold" text-anchor="end" fill="#111" stroke="#111" stroke-width="0.25">IZB@CCM</text>
<line x1="468.3" y1="676.5" x2="468.3" y2="681.7" stroke="#111" stroke-width="1.5"/>
<text transform="translate(471.1,693.1) rotate(-36)" font-size="11.5" font-weight="bold" text-anchor="end" fill="#111" stroke="#111" stroke-width="0.25">IN10018+RT</text>
<line x1="493.5" y1="676.5" x2="493.5" y2="681.7" stroke="#111" stroke-width="1.5"/>
<text transform="translate(496.3,693.1) rotate(-36)" font-size="11.5" font-weight="bold" text-anchor="end" fill="#111" stroke="#111" stroke-width="0.25">ZB@CCM+RT</text>
<line x1="519.0" y1="676.5" x2="519.0" y2="681.7" stroke="#111" stroke-width="1.5"/>
<text transform="translate(521.8,693.1) rotate(-36)" font-size="11.5" font-weight="bold" text-anchor="end" fill="#111" stroke="#111" stroke-width="0.25">IZB@CCM+RT</text>
<path d="M366.3,543.8V538.4H519.2V543.8" fill="none" stroke="#4a4a4a" stroke-width="1"/>
<text x="442.50" y="541.58" font-size="10" font-weight="bold" text-anchor="middle" fill="#111"  stroke="#111" stroke-width="0.15">**</text>
<path d="M442.6,623V617.5H519.2V623" fill="none" stroke="#4a4a4a" stroke-width="1"/>
<text x="481.30" y="620.18" font-size="10" font-weight="bold" text-anchor="middle" fill="#111"  stroke="#111" stroke-width="0.15">*</text>
</svg>
</body></html>
